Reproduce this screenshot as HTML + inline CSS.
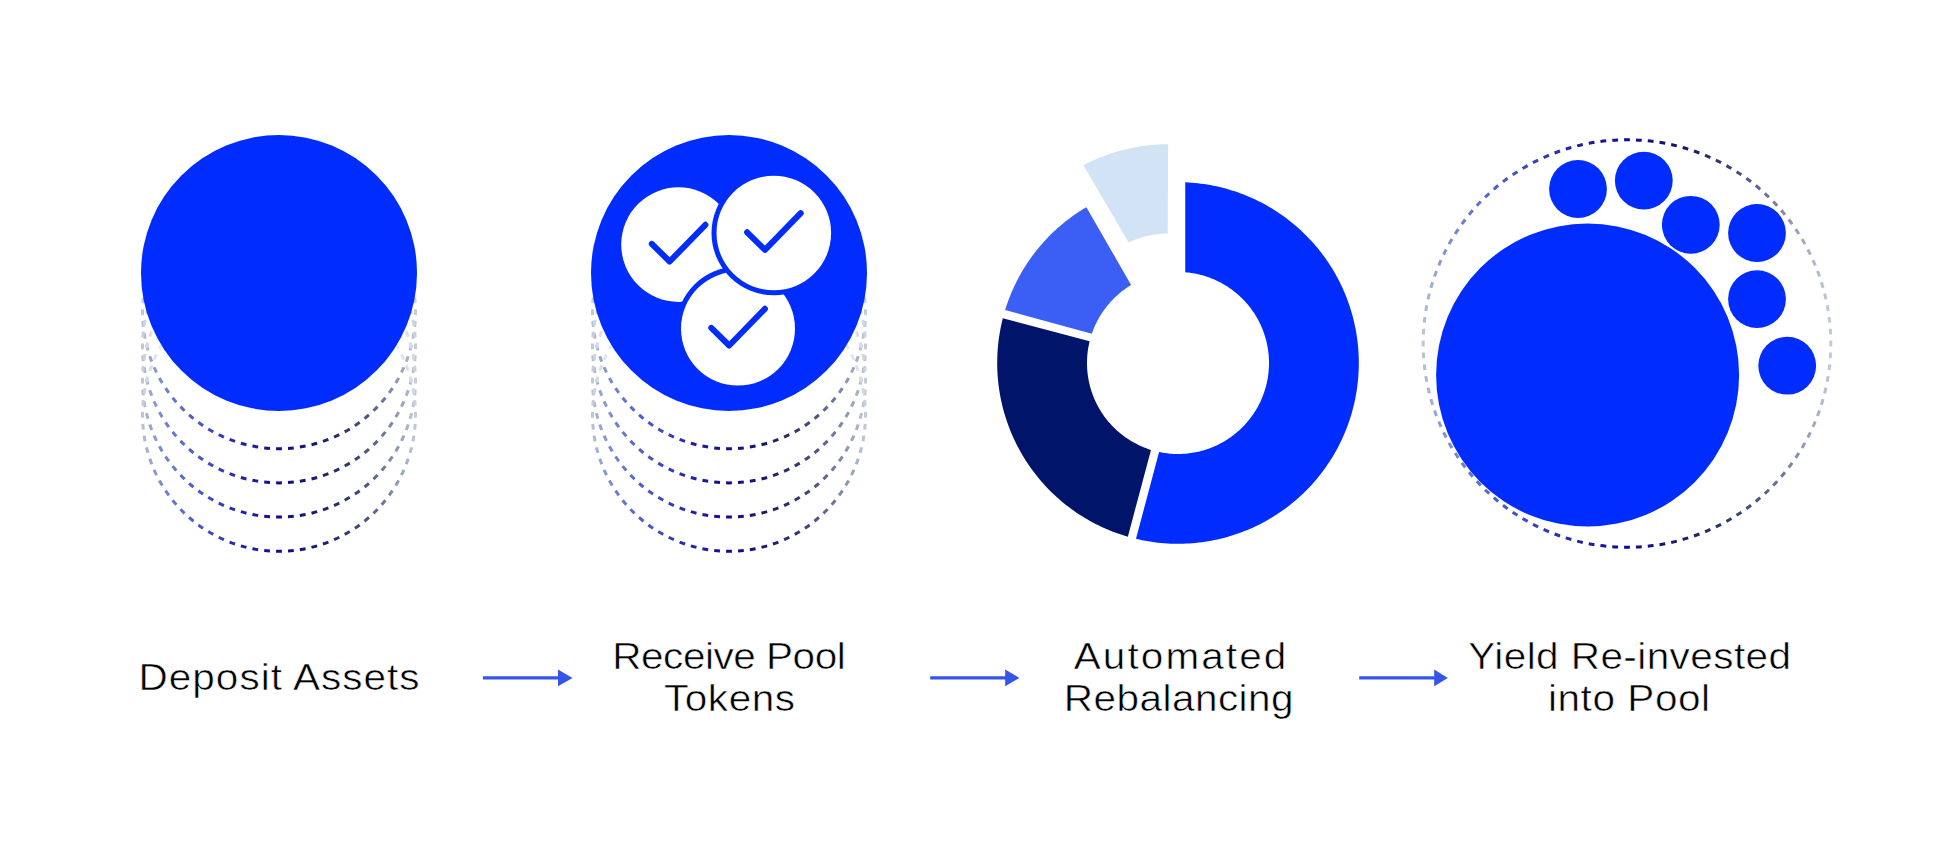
<!DOCTYPE html>
<html><head><meta charset="utf-8">
<style>
html,body{margin:0;padding:0;background:#fff;width:1950px;height:849px;overflow:hidden}
svg{position:absolute;left:0;top:0}
.t{position:absolute;font-family:"Liberation Sans",sans-serif;font-size:35px;color:#000;white-space:nowrap;line-height:42px;}
</style></head><body>
<svg width="1950" height="849" viewBox="0 0 1950 849">
<g fill="none" stroke-width="3.0"><path d="M276.10 175.73A136.5 136.5 0 0 1 281.90 175.73" stroke="#f4f6f9"/><path d="M288.01 176.00A136.5 136.5 0 0 1 293.78 176.50" stroke="#f3f6f9"/><path d="M299.84 177.30A136.5 136.5 0 0 1 305.55 178.31" stroke="#f3f5f8"/><path d="M311.52 179.63A136.5 136.5 0 0 1 317.12 181.13" stroke="#f2f4f8"/><path d="M322.95 182.97A136.5 136.5 0 0 1 328.40 184.95" stroke="#f2f4f7"/><path d="M334.05 187.29A136.5 136.5 0 0 1 339.30 189.74" stroke="#f1f4f7"/><path d="M344.72 192.56A136.5 136.5 0 0 1 349.75 195.46" stroke="#f0f3f7"/><path d="M354.90 198.75A136.5 136.5 0 0 1 359.65 202.07" stroke="#f0f2f6"/><path d="M364.50 205.79A136.5 136.5 0 0 1 368.94 209.52" stroke="#eff2f6"/><path d="M373.45 213.65A136.5 136.5 0 0 1 377.55 217.75" stroke="#eff2f5"/><path d="M381.68 222.26A136.5 136.5 0 0 1 385.41 226.70" stroke="#eef1f5"/><path d="M389.13 231.55A136.5 136.5 0 0 1 392.45 236.30" stroke="#e9edf2"/><path d="M395.74 241.45A136.5 136.5 0 0 1 398.64 246.48" stroke="#e5e9ef"/><path d="M401.46 251.90A136.5 136.5 0 0 1 403.91 257.15" stroke="#e0e5ec"/><path d="M406.25 262.80A136.5 136.5 0 0 1 408.23 268.25" stroke="#dbe0e8"/><path d="M410.07 274.08A136.5 136.5 0 0 1 411.57 279.68" stroke="#d5dce5"/><path d="M412.89 285.65A136.5 136.5 0 0 1 413.90 291.36" stroke="#d0d7e1"/><path d="M414.70 297.42A136.5 136.5 0 0 1 415.20 303.19" stroke="#cad2dc"/><path d="M415.47 309.30A136.5 136.5 0 0 1 415.47 315.10" stroke="#c4ccd8"/><path d="M415.20 321.21A136.5 136.5 0 0 1 414.70 326.98" stroke="#bfc7d5"/><path d="M413.90 333.04A136.5 136.5 0 0 1 412.89 338.75" stroke="#b9c3d1"/><path d="M411.57 344.72A136.5 136.5 0 0 1 410.07 350.32" stroke="#b4bece"/><path d="M408.23 356.15A136.5 136.5 0 0 1 406.25 361.60" stroke="#a7b2c5"/><path d="M403.91 367.25A136.5 136.5 0 0 1 401.46 372.50" stroke="#9ba6bd"/><path d="M398.64 377.92A136.5 136.5 0 0 1 395.74 382.95" stroke="#8e9ab4"/><path d="M392.45 388.10A136.5 136.5 0 0 1 389.13 392.85" stroke="#7d89a8"/><path d="M385.41 397.70A136.5 136.5 0 0 1 381.68 402.14" stroke="#6d799c"/><path d="M377.55 406.65A136.5 136.5 0 0 1 373.45 410.75" stroke="#5c6890"/><path d="M368.94 414.88A136.5 136.5 0 0 1 364.50 418.61" stroke="#4d5983"/><path d="M359.65 422.33A136.5 136.5 0 0 1 354.90 425.65" stroke="#3f4977"/><path d="M349.75 428.94A136.5 136.5 0 0 1 344.72 431.84" stroke="#303a6a"/><path d="M339.30 434.66A136.5 136.5 0 0 1 334.05 437.11" stroke="#282f67"/><path d="M328.40 439.45A136.5 136.5 0 0 1 322.95 441.43" stroke="#202565"/><path d="M317.12 443.27A136.5 136.5 0 0 1 311.52 444.77" stroke="#181a62"/><path d="M305.55 446.09A136.5 136.5 0 0 1 299.84 447.10" stroke="#161573"/><path d="M293.78 447.90A136.5 136.5 0 0 1 288.01 448.40" stroke="#140f85"/><path d="M281.90 448.67A136.5 136.5 0 0 1 276.10 448.67" stroke="#120a96"/><path d="M269.99 448.40A136.5 136.5 0 0 1 264.22 447.90" stroke="#17119a"/><path d="M258.16 447.10A136.5 136.5 0 0 1 252.45 446.09" stroke="#1d199e"/><path d="M246.48 444.77A136.5 136.5 0 0 1 240.88 443.27" stroke="#2220a2"/><path d="M235.05 441.43A136.5 136.5 0 0 1 229.60 439.45" stroke="#2c2dac"/><path d="M223.95 437.11A136.5 136.5 0 0 1 218.70 434.66" stroke="#363bb6"/><path d="M213.28 431.84A136.5 136.5 0 0 1 208.25 428.94" stroke="#4048c0"/><path d="M203.10 425.65A136.5 136.5 0 0 1 198.35 422.33" stroke="#4954c5"/><path d="M193.50 418.61A136.5 136.5 0 0 1 189.06 414.88" stroke="#5160c9"/><path d="M184.55 410.75A136.5 136.5 0 0 1 180.45 406.65" stroke="#5a6cce"/><path d="M176.32 402.14A136.5 136.5 0 0 1 172.59 397.70" stroke="#6577cd"/><path d="M168.87 392.85A136.5 136.5 0 0 1 165.55 388.10" stroke="#6f81cd"/><path d="M162.26 382.95A136.5 136.5 0 0 1 159.36 377.92" stroke="#7a8ccc"/><path d="M156.54 372.50A136.5 136.5 0 0 1 154.09 367.25" stroke="#8899ce"/><path d="M151.75 361.60A136.5 136.5 0 0 1 149.77 356.15" stroke="#96a5d0"/><path d="M147.93 350.32A136.5 136.5 0 0 1 146.43 344.72" stroke="#a4b2d2"/><path d="M145.11 338.75A136.5 136.5 0 0 1 144.10 333.04" stroke="#adb9d3"/><path d="M143.30 326.98A136.5 136.5 0 0 1 142.80 321.21" stroke="#b5c0d4"/><path d="M142.53 315.10A136.5 136.5 0 0 1 142.53 309.30" stroke="#bec7d5"/><path d="M142.80 303.19A136.5 136.5 0 0 1 143.30 297.42" stroke="#c6ceda"/><path d="M144.10 291.36A136.5 136.5 0 0 1 145.11 285.65" stroke="#cdd4df"/><path d="M146.43 279.68A136.5 136.5 0 0 1 147.93 274.08" stroke="#d3dae3"/><path d="M149.77 268.25A136.5 136.5 0 0 1 151.75 262.80" stroke="#dadfe8"/><path d="M154.09 257.15A136.5 136.5 0 0 1 156.54 251.90" stroke="#e0e5ec"/><path d="M159.36 246.48A136.5 136.5 0 0 1 162.26 241.45" stroke="#e5e9ef"/><path d="M165.55 236.30A136.5 136.5 0 0 1 168.87 231.55" stroke="#e9edf2"/><path d="M172.59 226.70A136.5 136.5 0 0 1 176.32 222.26" stroke="#eef1f5"/><path d="M180.45 217.75A136.5 136.5 0 0 1 184.55 213.65" stroke="#eff2f5"/><path d="M189.06 209.52A136.5 136.5 0 0 1 193.50 205.79" stroke="#eff2f6"/><path d="M198.35 202.07A136.5 136.5 0 0 1 203.10 198.75" stroke="#f0f2f6"/><path d="M208.25 195.46A136.5 136.5 0 0 1 213.28 192.56" stroke="#f0f3f7"/><path d="M218.70 189.74A136.5 136.5 0 0 1 223.95 187.29" stroke="#f1f4f7"/><path d="M229.60 184.95A136.5 136.5 0 0 1 235.05 182.97" stroke="#f2f4f7"/><path d="M240.88 181.13A136.5 136.5 0 0 1 246.48 179.63" stroke="#f2f4f8"/><path d="M252.45 178.31A136.5 136.5 0 0 1 258.16 177.30" stroke="#f3f5f8"/><path d="M264.22 176.50A136.5 136.5 0 0 1 269.99 176.00" stroke="#f3f6f9"/></g>
<g fill="none" stroke-width="3.0"><path d="M276.10 209.93A136.5 136.5 0 0 1 281.90 209.93" stroke="#f4f6f9"/><path d="M288.01 210.20A136.5 136.5 0 0 1 293.78 210.70" stroke="#f3f6f9"/><path d="M299.84 211.50A136.5 136.5 0 0 1 305.55 212.51" stroke="#f3f5f8"/><path d="M311.52 213.83A136.5 136.5 0 0 1 317.12 215.33" stroke="#f2f4f8"/><path d="M322.95 217.17A136.5 136.5 0 0 1 328.40 219.15" stroke="#f2f4f7"/><path d="M334.05 221.49A136.5 136.5 0 0 1 339.30 223.94" stroke="#f1f4f7"/><path d="M344.72 226.76A136.5 136.5 0 0 1 349.75 229.66" stroke="#f0f3f7"/><path d="M354.90 232.95A136.5 136.5 0 0 1 359.65 236.27" stroke="#f0f2f6"/><path d="M364.50 239.99A136.5 136.5 0 0 1 368.94 243.72" stroke="#eff2f6"/><path d="M373.45 247.85A136.5 136.5 0 0 1 377.55 251.95" stroke="#eff2f5"/><path d="M381.68 256.46A136.5 136.5 0 0 1 385.41 260.90" stroke="#eef1f5"/><path d="M389.13 265.75A136.5 136.5 0 0 1 392.45 270.50" stroke="#e9edf2"/><path d="M395.74 275.65A136.5 136.5 0 0 1 398.64 280.68" stroke="#e5e9ef"/><path d="M401.46 286.10A136.5 136.5 0 0 1 403.91 291.35" stroke="#e0e5ec"/><path d="M406.25 297.00A136.5 136.5 0 0 1 408.23 302.45" stroke="#dbe0e8"/><path d="M410.07 308.28A136.5 136.5 0 0 1 411.57 313.88" stroke="#d5dce5"/><path d="M412.89 319.85A136.5 136.5 0 0 1 413.90 325.56" stroke="#d0d7e1"/><path d="M414.70 331.62A136.5 136.5 0 0 1 415.20 337.39" stroke="#cad2dc"/><path d="M415.47 343.50A136.5 136.5 0 0 1 415.47 349.30" stroke="#c4ccd8"/><path d="M415.20 355.41A136.5 136.5 0 0 1 414.70 361.18" stroke="#bfc7d5"/><path d="M413.90 367.24A136.5 136.5 0 0 1 412.89 372.95" stroke="#b9c3d1"/><path d="M411.57 378.92A136.5 136.5 0 0 1 410.07 384.52" stroke="#b4bece"/><path d="M408.23 390.35A136.5 136.5 0 0 1 406.25 395.80" stroke="#a7b2c5"/><path d="M403.91 401.45A136.5 136.5 0 0 1 401.46 406.70" stroke="#9ba6bd"/><path d="M398.64 412.12A136.5 136.5 0 0 1 395.74 417.15" stroke="#8e9ab4"/><path d="M392.45 422.30A136.5 136.5 0 0 1 389.13 427.05" stroke="#7d89a8"/><path d="M385.41 431.90A136.5 136.5 0 0 1 381.68 436.34" stroke="#6d799c"/><path d="M377.55 440.85A136.5 136.5 0 0 1 373.45 444.95" stroke="#5c6890"/><path d="M368.94 449.08A136.5 136.5 0 0 1 364.50 452.81" stroke="#4d5983"/><path d="M359.65 456.53A136.5 136.5 0 0 1 354.90 459.85" stroke="#3f4977"/><path d="M349.75 463.14A136.5 136.5 0 0 1 344.72 466.04" stroke="#303a6a"/><path d="M339.30 468.86A136.5 136.5 0 0 1 334.05 471.31" stroke="#282f67"/><path d="M328.40 473.65A136.5 136.5 0 0 1 322.95 475.63" stroke="#202565"/><path d="M317.12 477.47A136.5 136.5 0 0 1 311.52 478.97" stroke="#181a62"/><path d="M305.55 480.29A136.5 136.5 0 0 1 299.84 481.30" stroke="#161573"/><path d="M293.78 482.10A136.5 136.5 0 0 1 288.01 482.60" stroke="#140f85"/><path d="M281.90 482.87A136.5 136.5 0 0 1 276.10 482.87" stroke="#120a96"/><path d="M269.99 482.60A136.5 136.5 0 0 1 264.22 482.10" stroke="#17119a"/><path d="M258.16 481.30A136.5 136.5 0 0 1 252.45 480.29" stroke="#1d199e"/><path d="M246.48 478.97A136.5 136.5 0 0 1 240.88 477.47" stroke="#2220a2"/><path d="M235.05 475.63A136.5 136.5 0 0 1 229.60 473.65" stroke="#2c2dac"/><path d="M223.95 471.31A136.5 136.5 0 0 1 218.70 468.86" stroke="#363bb6"/><path d="M213.28 466.04A136.5 136.5 0 0 1 208.25 463.14" stroke="#4048c0"/><path d="M203.10 459.85A136.5 136.5 0 0 1 198.35 456.53" stroke="#4954c5"/><path d="M193.50 452.81A136.5 136.5 0 0 1 189.06 449.08" stroke="#5160c9"/><path d="M184.55 444.95A136.5 136.5 0 0 1 180.45 440.85" stroke="#5a6cce"/><path d="M176.32 436.34A136.5 136.5 0 0 1 172.59 431.90" stroke="#6577cd"/><path d="M168.87 427.05A136.5 136.5 0 0 1 165.55 422.30" stroke="#6f81cd"/><path d="M162.26 417.15A136.5 136.5 0 0 1 159.36 412.12" stroke="#7a8ccc"/><path d="M156.54 406.70A136.5 136.5 0 0 1 154.09 401.45" stroke="#8899ce"/><path d="M151.75 395.80A136.5 136.5 0 0 1 149.77 390.35" stroke="#96a5d0"/><path d="M147.93 384.52A136.5 136.5 0 0 1 146.43 378.92" stroke="#a4b2d2"/><path d="M145.11 372.95A136.5 136.5 0 0 1 144.10 367.24" stroke="#adb9d3"/><path d="M143.30 361.18A136.5 136.5 0 0 1 142.80 355.41" stroke="#b5c0d4"/><path d="M142.53 349.30A136.5 136.5 0 0 1 142.53 343.50" stroke="#bec7d5"/><path d="M142.80 337.39A136.5 136.5 0 0 1 143.30 331.62" stroke="#c6ceda"/><path d="M144.10 325.56A136.5 136.5 0 0 1 145.11 319.85" stroke="#cdd4df"/><path d="M146.43 313.88A136.5 136.5 0 0 1 147.93 308.28" stroke="#d3dae3"/><path d="M149.77 302.45A136.5 136.5 0 0 1 151.75 297.00" stroke="#dadfe8"/><path d="M154.09 291.35A136.5 136.5 0 0 1 156.54 286.10" stroke="#e0e5ec"/><path d="M159.36 280.68A136.5 136.5 0 0 1 162.26 275.65" stroke="#e5e9ef"/><path d="M165.55 270.50A136.5 136.5 0 0 1 168.87 265.75" stroke="#e9edf2"/><path d="M172.59 260.90A136.5 136.5 0 0 1 176.32 256.46" stroke="#eef1f5"/><path d="M180.45 251.95A136.5 136.5 0 0 1 184.55 247.85" stroke="#eff2f5"/><path d="M189.06 243.72A136.5 136.5 0 0 1 193.50 239.99" stroke="#eff2f6"/><path d="M198.35 236.27A136.5 136.5 0 0 1 203.10 232.95" stroke="#f0f2f6"/><path d="M208.25 229.66A136.5 136.5 0 0 1 213.28 226.76" stroke="#f0f3f7"/><path d="M218.70 223.94A136.5 136.5 0 0 1 223.95 221.49" stroke="#f1f4f7"/><path d="M229.60 219.15A136.5 136.5 0 0 1 235.05 217.17" stroke="#f2f4f7"/><path d="M240.88 215.33A136.5 136.5 0 0 1 246.48 213.83" stroke="#f2f4f8"/><path d="M252.45 212.51A136.5 136.5 0 0 1 258.16 211.50" stroke="#f3f5f8"/><path d="M264.22 210.70A136.5 136.5 0 0 1 269.99 210.20" stroke="#f3f6f9"/></g>
<g fill="none" stroke-width="3.0"><path d="M276.10 244.13A136.5 136.5 0 0 1 281.90 244.13" stroke="#f4f6f9"/><path d="M288.01 244.40A136.5 136.5 0 0 1 293.78 244.90" stroke="#f3f6f9"/><path d="M299.84 245.70A136.5 136.5 0 0 1 305.55 246.71" stroke="#f3f5f8"/><path d="M311.52 248.03A136.5 136.5 0 0 1 317.12 249.53" stroke="#f2f4f8"/><path d="M322.95 251.37A136.5 136.5 0 0 1 328.40 253.35" stroke="#f2f4f7"/><path d="M334.05 255.69A136.5 136.5 0 0 1 339.30 258.14" stroke="#f1f4f7"/><path d="M344.72 260.96A136.5 136.5 0 0 1 349.75 263.86" stroke="#f0f3f7"/><path d="M354.90 267.15A136.5 136.5 0 0 1 359.65 270.47" stroke="#f0f2f6"/><path d="M364.50 274.19A136.5 136.5 0 0 1 368.94 277.92" stroke="#eff2f6"/><path d="M373.45 282.05A136.5 136.5 0 0 1 377.55 286.15" stroke="#eff2f5"/><path d="M381.68 290.66A136.5 136.5 0 0 1 385.41 295.10" stroke="#eef1f5"/><path d="M389.13 299.95A136.5 136.5 0 0 1 392.45 304.70" stroke="#e9edf2"/><path d="M395.74 309.85A136.5 136.5 0 0 1 398.64 314.88" stroke="#e5e9ef"/><path d="M401.46 320.30A136.5 136.5 0 0 1 403.91 325.55" stroke="#e0e5ec"/><path d="M406.25 331.20A136.5 136.5 0 0 1 408.23 336.65" stroke="#dbe0e8"/><path d="M410.07 342.48A136.5 136.5 0 0 1 411.57 348.08" stroke="#d5dce5"/><path d="M412.89 354.05A136.5 136.5 0 0 1 413.90 359.76" stroke="#d0d7e1"/><path d="M414.70 365.82A136.5 136.5 0 0 1 415.20 371.59" stroke="#cad2dc"/><path d="M415.47 377.70A136.5 136.5 0 0 1 415.47 383.50" stroke="#c4ccd8"/><path d="M415.20 389.61A136.5 136.5 0 0 1 414.70 395.38" stroke="#bfc7d5"/><path d="M413.90 401.44A136.5 136.5 0 0 1 412.89 407.15" stroke="#b9c3d1"/><path d="M411.57 413.12A136.5 136.5 0 0 1 410.07 418.72" stroke="#b4bece"/><path d="M408.23 424.55A136.5 136.5 0 0 1 406.25 430.00" stroke="#a7b2c5"/><path d="M403.91 435.65A136.5 136.5 0 0 1 401.46 440.90" stroke="#9ba6bd"/><path d="M398.64 446.32A136.5 136.5 0 0 1 395.74 451.35" stroke="#8e9ab4"/><path d="M392.45 456.50A136.5 136.5 0 0 1 389.13 461.25" stroke="#7d89a8"/><path d="M385.41 466.10A136.5 136.5 0 0 1 381.68 470.54" stroke="#6d799c"/><path d="M377.55 475.05A136.5 136.5 0 0 1 373.45 479.15" stroke="#5c6890"/><path d="M368.94 483.28A136.5 136.5 0 0 1 364.50 487.01" stroke="#4d5983"/><path d="M359.65 490.73A136.5 136.5 0 0 1 354.90 494.05" stroke="#3f4977"/><path d="M349.75 497.34A136.5 136.5 0 0 1 344.72 500.24" stroke="#303a6a"/><path d="M339.30 503.06A136.5 136.5 0 0 1 334.05 505.51" stroke="#282f67"/><path d="M328.40 507.85A136.5 136.5 0 0 1 322.95 509.83" stroke="#202565"/><path d="M317.12 511.67A136.5 136.5 0 0 1 311.52 513.17" stroke="#181a62"/><path d="M305.55 514.49A136.5 136.5 0 0 1 299.84 515.50" stroke="#161573"/><path d="M293.78 516.30A136.5 136.5 0 0 1 288.01 516.80" stroke="#140f85"/><path d="M281.90 517.07A136.5 136.5 0 0 1 276.10 517.07" stroke="#120a96"/><path d="M269.99 516.80A136.5 136.5 0 0 1 264.22 516.30" stroke="#17119a"/><path d="M258.16 515.50A136.5 136.5 0 0 1 252.45 514.49" stroke="#1d199e"/><path d="M246.48 513.17A136.5 136.5 0 0 1 240.88 511.67" stroke="#2220a2"/><path d="M235.05 509.83A136.5 136.5 0 0 1 229.60 507.85" stroke="#2c2dac"/><path d="M223.95 505.51A136.5 136.5 0 0 1 218.70 503.06" stroke="#363bb6"/><path d="M213.28 500.24A136.5 136.5 0 0 1 208.25 497.34" stroke="#4048c0"/><path d="M203.10 494.05A136.5 136.5 0 0 1 198.35 490.73" stroke="#4954c5"/><path d="M193.50 487.01A136.5 136.5 0 0 1 189.06 483.28" stroke="#5160c9"/><path d="M184.55 479.15A136.5 136.5 0 0 1 180.45 475.05" stroke="#5a6cce"/><path d="M176.32 470.54A136.5 136.5 0 0 1 172.59 466.10" stroke="#6577cd"/><path d="M168.87 461.25A136.5 136.5 0 0 1 165.55 456.50" stroke="#6f81cd"/><path d="M162.26 451.35A136.5 136.5 0 0 1 159.36 446.32" stroke="#7a8ccc"/><path d="M156.54 440.90A136.5 136.5 0 0 1 154.09 435.65" stroke="#8899ce"/><path d="M151.75 430.00A136.5 136.5 0 0 1 149.77 424.55" stroke="#96a5d0"/><path d="M147.93 418.72A136.5 136.5 0 0 1 146.43 413.12" stroke="#a4b2d2"/><path d="M145.11 407.15A136.5 136.5 0 0 1 144.10 401.44" stroke="#adb9d3"/><path d="M143.30 395.38A136.5 136.5 0 0 1 142.80 389.61" stroke="#b5c0d4"/><path d="M142.53 383.50A136.5 136.5 0 0 1 142.53 377.70" stroke="#bec7d5"/><path d="M142.80 371.59A136.5 136.5 0 0 1 143.30 365.82" stroke="#c6ceda"/><path d="M144.10 359.76A136.5 136.5 0 0 1 145.11 354.05" stroke="#cdd4df"/><path d="M146.43 348.08A136.5 136.5 0 0 1 147.93 342.48" stroke="#d3dae3"/><path d="M149.77 336.65A136.5 136.5 0 0 1 151.75 331.20" stroke="#dadfe8"/><path d="M154.09 325.55A136.5 136.5 0 0 1 156.54 320.30" stroke="#e0e5ec"/><path d="M159.36 314.88A136.5 136.5 0 0 1 162.26 309.85" stroke="#e5e9ef"/><path d="M165.55 304.70A136.5 136.5 0 0 1 168.87 299.95" stroke="#e9edf2"/><path d="M172.59 295.10A136.5 136.5 0 0 1 176.32 290.66" stroke="#eef1f5"/><path d="M180.45 286.15A136.5 136.5 0 0 1 184.55 282.05" stroke="#eff2f5"/><path d="M189.06 277.92A136.5 136.5 0 0 1 193.50 274.19" stroke="#eff2f6"/><path d="M198.35 270.47A136.5 136.5 0 0 1 203.10 267.15" stroke="#f0f2f6"/><path d="M208.25 263.86A136.5 136.5 0 0 1 213.28 260.96" stroke="#f0f3f7"/><path d="M218.70 258.14A136.5 136.5 0 0 1 223.95 255.69" stroke="#f1f4f7"/><path d="M229.60 253.35A136.5 136.5 0 0 1 235.05 251.37" stroke="#f2f4f7"/><path d="M240.88 249.53A136.5 136.5 0 0 1 246.48 248.03" stroke="#f2f4f8"/><path d="M252.45 246.71A136.5 136.5 0 0 1 258.16 245.70" stroke="#f3f5f8"/><path d="M264.22 244.90A136.5 136.5 0 0 1 269.99 244.40" stroke="#f3f6f9"/></g>
<g fill="none" stroke-width="3.0"><path d="M276.10 278.33A136.5 136.5 0 0 1 281.90 278.33" stroke="#f4f6f9"/><path d="M288.01 278.60A136.5 136.5 0 0 1 293.78 279.10" stroke="#f3f6f9"/><path d="M299.84 279.90A136.5 136.5 0 0 1 305.55 280.91" stroke="#f3f5f8"/><path d="M311.52 282.23A136.5 136.5 0 0 1 317.12 283.73" stroke="#f2f4f8"/><path d="M322.95 285.57A136.5 136.5 0 0 1 328.40 287.55" stroke="#f2f4f7"/><path d="M334.05 289.89A136.5 136.5 0 0 1 339.30 292.34" stroke="#f1f4f7"/><path d="M344.72 295.16A136.5 136.5 0 0 1 349.75 298.06" stroke="#f0f3f7"/><path d="M354.90 301.35A136.5 136.5 0 0 1 359.65 304.67" stroke="#f0f2f6"/><path d="M364.50 308.39A136.5 136.5 0 0 1 368.94 312.12" stroke="#eff2f6"/><path d="M373.45 316.25A136.5 136.5 0 0 1 377.55 320.35" stroke="#eff2f5"/><path d="M381.68 324.86A136.5 136.5 0 0 1 385.41 329.30" stroke="#eef1f5"/><path d="M389.13 334.15A136.5 136.5 0 0 1 392.45 338.90" stroke="#e9edf2"/><path d="M395.74 344.05A136.5 136.5 0 0 1 398.64 349.08" stroke="#e5e9ef"/><path d="M401.46 354.50A136.5 136.5 0 0 1 403.91 359.75" stroke="#e0e5ec"/><path d="M406.25 365.40A136.5 136.5 0 0 1 408.23 370.85" stroke="#dbe0e8"/><path d="M410.07 376.68A136.5 136.5 0 0 1 411.57 382.28" stroke="#d5dce5"/><path d="M412.89 388.25A136.5 136.5 0 0 1 413.90 393.96" stroke="#d0d7e1"/><path d="M414.70 400.02A136.5 136.5 0 0 1 415.20 405.79" stroke="#cad2dc"/><path d="M415.47 411.90A136.5 136.5 0 0 1 415.47 417.70" stroke="#c4ccd8"/><path d="M415.20 423.81A136.5 136.5 0 0 1 414.70 429.58" stroke="#bfc7d5"/><path d="M413.90 435.64A136.5 136.5 0 0 1 412.89 441.35" stroke="#b9c3d1"/><path d="M411.57 447.32A136.5 136.5 0 0 1 410.07 452.92" stroke="#b4bece"/><path d="M408.23 458.75A136.5 136.5 0 0 1 406.25 464.20" stroke="#a7b2c5"/><path d="M403.91 469.85A136.5 136.5 0 0 1 401.46 475.10" stroke="#9ba6bd"/><path d="M398.64 480.52A136.5 136.5 0 0 1 395.74 485.55" stroke="#8e9ab4"/><path d="M392.45 490.70A136.5 136.5 0 0 1 389.13 495.45" stroke="#7d89a8"/><path d="M385.41 500.30A136.5 136.5 0 0 1 381.68 504.74" stroke="#6d799c"/><path d="M377.55 509.25A136.5 136.5 0 0 1 373.45 513.35" stroke="#5c6890"/><path d="M368.94 517.48A136.5 136.5 0 0 1 364.50 521.21" stroke="#4d5983"/><path d="M359.65 524.93A136.5 136.5 0 0 1 354.90 528.25" stroke="#3f4977"/><path d="M349.75 531.54A136.5 136.5 0 0 1 344.72 534.44" stroke="#303a6a"/><path d="M339.30 537.26A136.5 136.5 0 0 1 334.05 539.71" stroke="#282f67"/><path d="M328.40 542.05A136.5 136.5 0 0 1 322.95 544.03" stroke="#202565"/><path d="M317.12 545.87A136.5 136.5 0 0 1 311.52 547.37" stroke="#181a62"/><path d="M305.55 548.69A136.5 136.5 0 0 1 299.84 549.70" stroke="#161573"/><path d="M293.78 550.50A136.5 136.5 0 0 1 288.01 551.00" stroke="#140f85"/><path d="M281.90 551.27A136.5 136.5 0 0 1 276.10 551.27" stroke="#120a96"/><path d="M269.99 551.00A136.5 136.5 0 0 1 264.22 550.50" stroke="#17119a"/><path d="M258.16 549.70A136.5 136.5 0 0 1 252.45 548.69" stroke="#1d199e"/><path d="M246.48 547.37A136.5 136.5 0 0 1 240.88 545.87" stroke="#2220a2"/><path d="M235.05 544.03A136.5 136.5 0 0 1 229.60 542.05" stroke="#2c2dac"/><path d="M223.95 539.71A136.5 136.5 0 0 1 218.70 537.26" stroke="#363bb6"/><path d="M213.28 534.44A136.5 136.5 0 0 1 208.25 531.54" stroke="#4048c0"/><path d="M203.10 528.25A136.5 136.5 0 0 1 198.35 524.93" stroke="#4954c5"/><path d="M193.50 521.21A136.5 136.5 0 0 1 189.06 517.48" stroke="#5160c9"/><path d="M184.55 513.35A136.5 136.5 0 0 1 180.45 509.25" stroke="#5a6cce"/><path d="M176.32 504.74A136.5 136.5 0 0 1 172.59 500.30" stroke="#6577cd"/><path d="M168.87 495.45A136.5 136.5 0 0 1 165.55 490.70" stroke="#6f81cd"/><path d="M162.26 485.55A136.5 136.5 0 0 1 159.36 480.52" stroke="#7a8ccc"/><path d="M156.54 475.10A136.5 136.5 0 0 1 154.09 469.85" stroke="#8899ce"/><path d="M151.75 464.20A136.5 136.5 0 0 1 149.77 458.75" stroke="#96a5d0"/><path d="M147.93 452.92A136.5 136.5 0 0 1 146.43 447.32" stroke="#a4b2d2"/><path d="M145.11 441.35A136.5 136.5 0 0 1 144.10 435.64" stroke="#adb9d3"/><path d="M143.30 429.58A136.5 136.5 0 0 1 142.80 423.81" stroke="#b5c0d4"/><path d="M142.53 417.70A136.5 136.5 0 0 1 142.53 411.90" stroke="#bec7d5"/><path d="M142.80 405.79A136.5 136.5 0 0 1 143.30 400.02" stroke="#c6ceda"/><path d="M144.10 393.96A136.5 136.5 0 0 1 145.11 388.25" stroke="#cdd4df"/><path d="M146.43 382.28A136.5 136.5 0 0 1 147.93 376.68" stroke="#d3dae3"/><path d="M149.77 370.85A136.5 136.5 0 0 1 151.75 365.40" stroke="#dadfe8"/><path d="M154.09 359.75A136.5 136.5 0 0 1 156.54 354.50" stroke="#e0e5ec"/><path d="M159.36 349.08A136.5 136.5 0 0 1 162.26 344.05" stroke="#e5e9ef"/><path d="M165.55 338.90A136.5 136.5 0 0 1 168.87 334.15" stroke="#e9edf2"/><path d="M172.59 329.30A136.5 136.5 0 0 1 176.32 324.86" stroke="#eef1f5"/><path d="M180.45 320.35A136.5 136.5 0 0 1 184.55 316.25" stroke="#eff2f5"/><path d="M189.06 312.12A136.5 136.5 0 0 1 193.50 308.39" stroke="#eff2f6"/><path d="M198.35 304.67A136.5 136.5 0 0 1 203.10 301.35" stroke="#f0f2f6"/><path d="M208.25 298.06A136.5 136.5 0 0 1 213.28 295.16" stroke="#f0f3f7"/><path d="M218.70 292.34A136.5 136.5 0 0 1 223.95 289.89" stroke="#f1f4f7"/><path d="M229.60 287.55A136.5 136.5 0 0 1 235.05 285.57" stroke="#f2f4f7"/><path d="M240.88 283.73A136.5 136.5 0 0 1 246.48 282.23" stroke="#f2f4f8"/><path d="M252.45 280.91A136.5 136.5 0 0 1 258.16 279.90" stroke="#f3f5f8"/><path d="M264.22 279.10A136.5 136.5 0 0 1 269.99 278.60" stroke="#f3f6f9"/></g>
<circle cx="279" cy="273" r="138" fill="#002cfe"/>
<g fill="none" stroke-width="3.0"><path d="M726.10 175.73A136.5 136.5 0 0 1 731.90 175.73" stroke="#f4f6f9"/><path d="M738.01 176.00A136.5 136.5 0 0 1 743.78 176.50" stroke="#f3f6f9"/><path d="M749.84 177.30A136.5 136.5 0 0 1 755.55 178.31" stroke="#f3f5f8"/><path d="M761.52 179.63A136.5 136.5 0 0 1 767.12 181.13" stroke="#f2f4f8"/><path d="M772.95 182.97A136.5 136.5 0 0 1 778.40 184.95" stroke="#f2f4f7"/><path d="M784.05 187.29A136.5 136.5 0 0 1 789.30 189.74" stroke="#f1f4f7"/><path d="M794.72 192.56A136.5 136.5 0 0 1 799.75 195.46" stroke="#f0f3f7"/><path d="M804.90 198.75A136.5 136.5 0 0 1 809.65 202.07" stroke="#f0f2f6"/><path d="M814.50 205.79A136.5 136.5 0 0 1 818.94 209.52" stroke="#eff2f6"/><path d="M823.45 213.65A136.5 136.5 0 0 1 827.55 217.75" stroke="#eff2f5"/><path d="M831.68 222.26A136.5 136.5 0 0 1 835.41 226.70" stroke="#eef1f5"/><path d="M839.13 231.55A136.5 136.5 0 0 1 842.45 236.30" stroke="#e9edf2"/><path d="M845.74 241.45A136.5 136.5 0 0 1 848.64 246.48" stroke="#e5e9ef"/><path d="M851.46 251.90A136.5 136.5 0 0 1 853.91 257.15" stroke="#e0e5ec"/><path d="M856.25 262.80A136.5 136.5 0 0 1 858.23 268.25" stroke="#dbe0e8"/><path d="M860.07 274.08A136.5 136.5 0 0 1 861.57 279.68" stroke="#d5dce5"/><path d="M862.89 285.65A136.5 136.5 0 0 1 863.90 291.36" stroke="#d0d7e1"/><path d="M864.70 297.42A136.5 136.5 0 0 1 865.20 303.19" stroke="#cad2dc"/><path d="M865.47 309.30A136.5 136.5 0 0 1 865.47 315.10" stroke="#c4ccd8"/><path d="M865.20 321.21A136.5 136.5 0 0 1 864.70 326.98" stroke="#bfc7d5"/><path d="M863.90 333.04A136.5 136.5 0 0 1 862.89 338.75" stroke="#b9c3d1"/><path d="M861.57 344.72A136.5 136.5 0 0 1 860.07 350.32" stroke="#b4bece"/><path d="M858.23 356.15A136.5 136.5 0 0 1 856.25 361.60" stroke="#a7b2c5"/><path d="M853.91 367.25A136.5 136.5 0 0 1 851.46 372.50" stroke="#9ba6bd"/><path d="M848.64 377.92A136.5 136.5 0 0 1 845.74 382.95" stroke="#8e9ab4"/><path d="M842.45 388.10A136.5 136.5 0 0 1 839.13 392.85" stroke="#7d89a8"/><path d="M835.41 397.70A136.5 136.5 0 0 1 831.68 402.14" stroke="#6d799c"/><path d="M827.55 406.65A136.5 136.5 0 0 1 823.45 410.75" stroke="#5c6890"/><path d="M818.94 414.88A136.5 136.5 0 0 1 814.50 418.61" stroke="#4d5983"/><path d="M809.65 422.33A136.5 136.5 0 0 1 804.90 425.65" stroke="#3f4977"/><path d="M799.75 428.94A136.5 136.5 0 0 1 794.72 431.84" stroke="#303a6a"/><path d="M789.30 434.66A136.5 136.5 0 0 1 784.05 437.11" stroke="#282f67"/><path d="M778.40 439.45A136.5 136.5 0 0 1 772.95 441.43" stroke="#202565"/><path d="M767.12 443.27A136.5 136.5 0 0 1 761.52 444.77" stroke="#181a62"/><path d="M755.55 446.09A136.5 136.5 0 0 1 749.84 447.10" stroke="#161573"/><path d="M743.78 447.90A136.5 136.5 0 0 1 738.01 448.40" stroke="#140f85"/><path d="M731.90 448.67A136.5 136.5 0 0 1 726.10 448.67" stroke="#120a96"/><path d="M719.99 448.40A136.5 136.5 0 0 1 714.22 447.90" stroke="#17119a"/><path d="M708.16 447.10A136.5 136.5 0 0 1 702.45 446.09" stroke="#1d199e"/><path d="M696.48 444.77A136.5 136.5 0 0 1 690.88 443.27" stroke="#2220a2"/><path d="M685.05 441.43A136.5 136.5 0 0 1 679.60 439.45" stroke="#2c2dac"/><path d="M673.95 437.11A136.5 136.5 0 0 1 668.70 434.66" stroke="#363bb6"/><path d="M663.28 431.84A136.5 136.5 0 0 1 658.25 428.94" stroke="#4048c0"/><path d="M653.10 425.65A136.5 136.5 0 0 1 648.35 422.33" stroke="#4954c5"/><path d="M643.50 418.61A136.5 136.5 0 0 1 639.06 414.88" stroke="#5160c9"/><path d="M634.55 410.75A136.5 136.5 0 0 1 630.45 406.65" stroke="#5a6cce"/><path d="M626.32 402.14A136.5 136.5 0 0 1 622.59 397.70" stroke="#6577cd"/><path d="M618.87 392.85A136.5 136.5 0 0 1 615.55 388.10" stroke="#6f81cd"/><path d="M612.26 382.95A136.5 136.5 0 0 1 609.36 377.92" stroke="#7a8ccc"/><path d="M606.54 372.50A136.5 136.5 0 0 1 604.09 367.25" stroke="#8899ce"/><path d="M601.75 361.60A136.5 136.5 0 0 1 599.77 356.15" stroke="#96a5d0"/><path d="M597.93 350.32A136.5 136.5 0 0 1 596.43 344.72" stroke="#a4b2d2"/><path d="M595.11 338.75A136.5 136.5 0 0 1 594.10 333.04" stroke="#adb9d3"/><path d="M593.30 326.98A136.5 136.5 0 0 1 592.80 321.21" stroke="#b5c0d4"/><path d="M592.53 315.10A136.5 136.5 0 0 1 592.53 309.30" stroke="#bec7d5"/><path d="M592.80 303.19A136.5 136.5 0 0 1 593.30 297.42" stroke="#c6ceda"/><path d="M594.10 291.36A136.5 136.5 0 0 1 595.11 285.65" stroke="#cdd4df"/><path d="M596.43 279.68A136.5 136.5 0 0 1 597.93 274.08" stroke="#d3dae3"/><path d="M599.77 268.25A136.5 136.5 0 0 1 601.75 262.80" stroke="#dadfe8"/><path d="M604.09 257.15A136.5 136.5 0 0 1 606.54 251.90" stroke="#e0e5ec"/><path d="M609.36 246.48A136.5 136.5 0 0 1 612.26 241.45" stroke="#e5e9ef"/><path d="M615.55 236.30A136.5 136.5 0 0 1 618.87 231.55" stroke="#e9edf2"/><path d="M622.59 226.70A136.5 136.5 0 0 1 626.32 222.26" stroke="#eef1f5"/><path d="M630.45 217.75A136.5 136.5 0 0 1 634.55 213.65" stroke="#eff2f5"/><path d="M639.06 209.52A136.5 136.5 0 0 1 643.50 205.79" stroke="#eff2f6"/><path d="M648.35 202.07A136.5 136.5 0 0 1 653.10 198.75" stroke="#f0f2f6"/><path d="M658.25 195.46A136.5 136.5 0 0 1 663.28 192.56" stroke="#f0f3f7"/><path d="M668.70 189.74A136.5 136.5 0 0 1 673.95 187.29" stroke="#f1f4f7"/><path d="M679.60 184.95A136.5 136.5 0 0 1 685.05 182.97" stroke="#f2f4f7"/><path d="M690.88 181.13A136.5 136.5 0 0 1 696.48 179.63" stroke="#f2f4f8"/><path d="M702.45 178.31A136.5 136.5 0 0 1 708.16 177.30" stroke="#f3f5f8"/><path d="M714.22 176.50A136.5 136.5 0 0 1 719.99 176.00" stroke="#f3f6f9"/></g>
<g fill="none" stroke-width="3.0"><path d="M726.10 209.93A136.5 136.5 0 0 1 731.90 209.93" stroke="#f4f6f9"/><path d="M738.01 210.20A136.5 136.5 0 0 1 743.78 210.70" stroke="#f3f6f9"/><path d="M749.84 211.50A136.5 136.5 0 0 1 755.55 212.51" stroke="#f3f5f8"/><path d="M761.52 213.83A136.5 136.5 0 0 1 767.12 215.33" stroke="#f2f4f8"/><path d="M772.95 217.17A136.5 136.5 0 0 1 778.40 219.15" stroke="#f2f4f7"/><path d="M784.05 221.49A136.5 136.5 0 0 1 789.30 223.94" stroke="#f1f4f7"/><path d="M794.72 226.76A136.5 136.5 0 0 1 799.75 229.66" stroke="#f0f3f7"/><path d="M804.90 232.95A136.5 136.5 0 0 1 809.65 236.27" stroke="#f0f2f6"/><path d="M814.50 239.99A136.5 136.5 0 0 1 818.94 243.72" stroke="#eff2f6"/><path d="M823.45 247.85A136.5 136.5 0 0 1 827.55 251.95" stroke="#eff2f5"/><path d="M831.68 256.46A136.5 136.5 0 0 1 835.41 260.90" stroke="#eef1f5"/><path d="M839.13 265.75A136.5 136.5 0 0 1 842.45 270.50" stroke="#e9edf2"/><path d="M845.74 275.65A136.5 136.5 0 0 1 848.64 280.68" stroke="#e5e9ef"/><path d="M851.46 286.10A136.5 136.5 0 0 1 853.91 291.35" stroke="#e0e5ec"/><path d="M856.25 297.00A136.5 136.5 0 0 1 858.23 302.45" stroke="#dbe0e8"/><path d="M860.07 308.28A136.5 136.5 0 0 1 861.57 313.88" stroke="#d5dce5"/><path d="M862.89 319.85A136.5 136.5 0 0 1 863.90 325.56" stroke="#d0d7e1"/><path d="M864.70 331.62A136.5 136.5 0 0 1 865.20 337.39" stroke="#cad2dc"/><path d="M865.47 343.50A136.5 136.5 0 0 1 865.47 349.30" stroke="#c4ccd8"/><path d="M865.20 355.41A136.5 136.5 0 0 1 864.70 361.18" stroke="#bfc7d5"/><path d="M863.90 367.24A136.5 136.5 0 0 1 862.89 372.95" stroke="#b9c3d1"/><path d="M861.57 378.92A136.5 136.5 0 0 1 860.07 384.52" stroke="#b4bece"/><path d="M858.23 390.35A136.5 136.5 0 0 1 856.25 395.80" stroke="#a7b2c5"/><path d="M853.91 401.45A136.5 136.5 0 0 1 851.46 406.70" stroke="#9ba6bd"/><path d="M848.64 412.12A136.5 136.5 0 0 1 845.74 417.15" stroke="#8e9ab4"/><path d="M842.45 422.30A136.5 136.5 0 0 1 839.13 427.05" stroke="#7d89a8"/><path d="M835.41 431.90A136.5 136.5 0 0 1 831.68 436.34" stroke="#6d799c"/><path d="M827.55 440.85A136.5 136.5 0 0 1 823.45 444.95" stroke="#5c6890"/><path d="M818.94 449.08A136.5 136.5 0 0 1 814.50 452.81" stroke="#4d5983"/><path d="M809.65 456.53A136.5 136.5 0 0 1 804.90 459.85" stroke="#3f4977"/><path d="M799.75 463.14A136.5 136.5 0 0 1 794.72 466.04" stroke="#303a6a"/><path d="M789.30 468.86A136.5 136.5 0 0 1 784.05 471.31" stroke="#282f67"/><path d="M778.40 473.65A136.5 136.5 0 0 1 772.95 475.63" stroke="#202565"/><path d="M767.12 477.47A136.5 136.5 0 0 1 761.52 478.97" stroke="#181a62"/><path d="M755.55 480.29A136.5 136.5 0 0 1 749.84 481.30" stroke="#161573"/><path d="M743.78 482.10A136.5 136.5 0 0 1 738.01 482.60" stroke="#140f85"/><path d="M731.90 482.87A136.5 136.5 0 0 1 726.10 482.87" stroke="#120a96"/><path d="M719.99 482.60A136.5 136.5 0 0 1 714.22 482.10" stroke="#17119a"/><path d="M708.16 481.30A136.5 136.5 0 0 1 702.45 480.29" stroke="#1d199e"/><path d="M696.48 478.97A136.5 136.5 0 0 1 690.88 477.47" stroke="#2220a2"/><path d="M685.05 475.63A136.5 136.5 0 0 1 679.60 473.65" stroke="#2c2dac"/><path d="M673.95 471.31A136.5 136.5 0 0 1 668.70 468.86" stroke="#363bb6"/><path d="M663.28 466.04A136.5 136.5 0 0 1 658.25 463.14" stroke="#4048c0"/><path d="M653.10 459.85A136.5 136.5 0 0 1 648.35 456.53" stroke="#4954c5"/><path d="M643.50 452.81A136.5 136.5 0 0 1 639.06 449.08" stroke="#5160c9"/><path d="M634.55 444.95A136.5 136.5 0 0 1 630.45 440.85" stroke="#5a6cce"/><path d="M626.32 436.34A136.5 136.5 0 0 1 622.59 431.90" stroke="#6577cd"/><path d="M618.87 427.05A136.5 136.5 0 0 1 615.55 422.30" stroke="#6f81cd"/><path d="M612.26 417.15A136.5 136.5 0 0 1 609.36 412.12" stroke="#7a8ccc"/><path d="M606.54 406.70A136.5 136.5 0 0 1 604.09 401.45" stroke="#8899ce"/><path d="M601.75 395.80A136.5 136.5 0 0 1 599.77 390.35" stroke="#96a5d0"/><path d="M597.93 384.52A136.5 136.5 0 0 1 596.43 378.92" stroke="#a4b2d2"/><path d="M595.11 372.95A136.5 136.5 0 0 1 594.10 367.24" stroke="#adb9d3"/><path d="M593.30 361.18A136.5 136.5 0 0 1 592.80 355.41" stroke="#b5c0d4"/><path d="M592.53 349.30A136.5 136.5 0 0 1 592.53 343.50" stroke="#bec7d5"/><path d="M592.80 337.39A136.5 136.5 0 0 1 593.30 331.62" stroke="#c6ceda"/><path d="M594.10 325.56A136.5 136.5 0 0 1 595.11 319.85" stroke="#cdd4df"/><path d="M596.43 313.88A136.5 136.5 0 0 1 597.93 308.28" stroke="#d3dae3"/><path d="M599.77 302.45A136.5 136.5 0 0 1 601.75 297.00" stroke="#dadfe8"/><path d="M604.09 291.35A136.5 136.5 0 0 1 606.54 286.10" stroke="#e0e5ec"/><path d="M609.36 280.68A136.5 136.5 0 0 1 612.26 275.65" stroke="#e5e9ef"/><path d="M615.55 270.50A136.5 136.5 0 0 1 618.87 265.75" stroke="#e9edf2"/><path d="M622.59 260.90A136.5 136.5 0 0 1 626.32 256.46" stroke="#eef1f5"/><path d="M630.45 251.95A136.5 136.5 0 0 1 634.55 247.85" stroke="#eff2f5"/><path d="M639.06 243.72A136.5 136.5 0 0 1 643.50 239.99" stroke="#eff2f6"/><path d="M648.35 236.27A136.5 136.5 0 0 1 653.10 232.95" stroke="#f0f2f6"/><path d="M658.25 229.66A136.5 136.5 0 0 1 663.28 226.76" stroke="#f0f3f7"/><path d="M668.70 223.94A136.5 136.5 0 0 1 673.95 221.49" stroke="#f1f4f7"/><path d="M679.60 219.15A136.5 136.5 0 0 1 685.05 217.17" stroke="#f2f4f7"/><path d="M690.88 215.33A136.5 136.5 0 0 1 696.48 213.83" stroke="#f2f4f8"/><path d="M702.45 212.51A136.5 136.5 0 0 1 708.16 211.50" stroke="#f3f5f8"/><path d="M714.22 210.70A136.5 136.5 0 0 1 719.99 210.20" stroke="#f3f6f9"/></g>
<g fill="none" stroke-width="3.0"><path d="M726.10 244.13A136.5 136.5 0 0 1 731.90 244.13" stroke="#f4f6f9"/><path d="M738.01 244.40A136.5 136.5 0 0 1 743.78 244.90" stroke="#f3f6f9"/><path d="M749.84 245.70A136.5 136.5 0 0 1 755.55 246.71" stroke="#f3f5f8"/><path d="M761.52 248.03A136.5 136.5 0 0 1 767.12 249.53" stroke="#f2f4f8"/><path d="M772.95 251.37A136.5 136.5 0 0 1 778.40 253.35" stroke="#f2f4f7"/><path d="M784.05 255.69A136.5 136.5 0 0 1 789.30 258.14" stroke="#f1f4f7"/><path d="M794.72 260.96A136.5 136.5 0 0 1 799.75 263.86" stroke="#f0f3f7"/><path d="M804.90 267.15A136.5 136.5 0 0 1 809.65 270.47" stroke="#f0f2f6"/><path d="M814.50 274.19A136.5 136.5 0 0 1 818.94 277.92" stroke="#eff2f6"/><path d="M823.45 282.05A136.5 136.5 0 0 1 827.55 286.15" stroke="#eff2f5"/><path d="M831.68 290.66A136.5 136.5 0 0 1 835.41 295.10" stroke="#eef1f5"/><path d="M839.13 299.95A136.5 136.5 0 0 1 842.45 304.70" stroke="#e9edf2"/><path d="M845.74 309.85A136.5 136.5 0 0 1 848.64 314.88" stroke="#e5e9ef"/><path d="M851.46 320.30A136.5 136.5 0 0 1 853.91 325.55" stroke="#e0e5ec"/><path d="M856.25 331.20A136.5 136.5 0 0 1 858.23 336.65" stroke="#dbe0e8"/><path d="M860.07 342.48A136.5 136.5 0 0 1 861.57 348.08" stroke="#d5dce5"/><path d="M862.89 354.05A136.5 136.5 0 0 1 863.90 359.76" stroke="#d0d7e1"/><path d="M864.70 365.82A136.5 136.5 0 0 1 865.20 371.59" stroke="#cad2dc"/><path d="M865.47 377.70A136.5 136.5 0 0 1 865.47 383.50" stroke="#c4ccd8"/><path d="M865.20 389.61A136.5 136.5 0 0 1 864.70 395.38" stroke="#bfc7d5"/><path d="M863.90 401.44A136.5 136.5 0 0 1 862.89 407.15" stroke="#b9c3d1"/><path d="M861.57 413.12A136.5 136.5 0 0 1 860.07 418.72" stroke="#b4bece"/><path d="M858.23 424.55A136.5 136.5 0 0 1 856.25 430.00" stroke="#a7b2c5"/><path d="M853.91 435.65A136.5 136.5 0 0 1 851.46 440.90" stroke="#9ba6bd"/><path d="M848.64 446.32A136.5 136.5 0 0 1 845.74 451.35" stroke="#8e9ab4"/><path d="M842.45 456.50A136.5 136.5 0 0 1 839.13 461.25" stroke="#7d89a8"/><path d="M835.41 466.10A136.5 136.5 0 0 1 831.68 470.54" stroke="#6d799c"/><path d="M827.55 475.05A136.5 136.5 0 0 1 823.45 479.15" stroke="#5c6890"/><path d="M818.94 483.28A136.5 136.5 0 0 1 814.50 487.01" stroke="#4d5983"/><path d="M809.65 490.73A136.5 136.5 0 0 1 804.90 494.05" stroke="#3f4977"/><path d="M799.75 497.34A136.5 136.5 0 0 1 794.72 500.24" stroke="#303a6a"/><path d="M789.30 503.06A136.5 136.5 0 0 1 784.05 505.51" stroke="#282f67"/><path d="M778.40 507.85A136.5 136.5 0 0 1 772.95 509.83" stroke="#202565"/><path d="M767.12 511.67A136.5 136.5 0 0 1 761.52 513.17" stroke="#181a62"/><path d="M755.55 514.49A136.5 136.5 0 0 1 749.84 515.50" stroke="#161573"/><path d="M743.78 516.30A136.5 136.5 0 0 1 738.01 516.80" stroke="#140f85"/><path d="M731.90 517.07A136.5 136.5 0 0 1 726.10 517.07" stroke="#120a96"/><path d="M719.99 516.80A136.5 136.5 0 0 1 714.22 516.30" stroke="#17119a"/><path d="M708.16 515.50A136.5 136.5 0 0 1 702.45 514.49" stroke="#1d199e"/><path d="M696.48 513.17A136.5 136.5 0 0 1 690.88 511.67" stroke="#2220a2"/><path d="M685.05 509.83A136.5 136.5 0 0 1 679.60 507.85" stroke="#2c2dac"/><path d="M673.95 505.51A136.5 136.5 0 0 1 668.70 503.06" stroke="#363bb6"/><path d="M663.28 500.24A136.5 136.5 0 0 1 658.25 497.34" stroke="#4048c0"/><path d="M653.10 494.05A136.5 136.5 0 0 1 648.35 490.73" stroke="#4954c5"/><path d="M643.50 487.01A136.5 136.5 0 0 1 639.06 483.28" stroke="#5160c9"/><path d="M634.55 479.15A136.5 136.5 0 0 1 630.45 475.05" stroke="#5a6cce"/><path d="M626.32 470.54A136.5 136.5 0 0 1 622.59 466.10" stroke="#6577cd"/><path d="M618.87 461.25A136.5 136.5 0 0 1 615.55 456.50" stroke="#6f81cd"/><path d="M612.26 451.35A136.5 136.5 0 0 1 609.36 446.32" stroke="#7a8ccc"/><path d="M606.54 440.90A136.5 136.5 0 0 1 604.09 435.65" stroke="#8899ce"/><path d="M601.75 430.00A136.5 136.5 0 0 1 599.77 424.55" stroke="#96a5d0"/><path d="M597.93 418.72A136.5 136.5 0 0 1 596.43 413.12" stroke="#a4b2d2"/><path d="M595.11 407.15A136.5 136.5 0 0 1 594.10 401.44" stroke="#adb9d3"/><path d="M593.30 395.38A136.5 136.5 0 0 1 592.80 389.61" stroke="#b5c0d4"/><path d="M592.53 383.50A136.5 136.5 0 0 1 592.53 377.70" stroke="#bec7d5"/><path d="M592.80 371.59A136.5 136.5 0 0 1 593.30 365.82" stroke="#c6ceda"/><path d="M594.10 359.76A136.5 136.5 0 0 1 595.11 354.05" stroke="#cdd4df"/><path d="M596.43 348.08A136.5 136.5 0 0 1 597.93 342.48" stroke="#d3dae3"/><path d="M599.77 336.65A136.5 136.5 0 0 1 601.75 331.20" stroke="#dadfe8"/><path d="M604.09 325.55A136.5 136.5 0 0 1 606.54 320.30" stroke="#e0e5ec"/><path d="M609.36 314.88A136.5 136.5 0 0 1 612.26 309.85" stroke="#e5e9ef"/><path d="M615.55 304.70A136.5 136.5 0 0 1 618.87 299.95" stroke="#e9edf2"/><path d="M622.59 295.10A136.5 136.5 0 0 1 626.32 290.66" stroke="#eef1f5"/><path d="M630.45 286.15A136.5 136.5 0 0 1 634.55 282.05" stroke="#eff2f5"/><path d="M639.06 277.92A136.5 136.5 0 0 1 643.50 274.19" stroke="#eff2f6"/><path d="M648.35 270.47A136.5 136.5 0 0 1 653.10 267.15" stroke="#f0f2f6"/><path d="M658.25 263.86A136.5 136.5 0 0 1 663.28 260.96" stroke="#f0f3f7"/><path d="M668.70 258.14A136.5 136.5 0 0 1 673.95 255.69" stroke="#f1f4f7"/><path d="M679.60 253.35A136.5 136.5 0 0 1 685.05 251.37" stroke="#f2f4f7"/><path d="M690.88 249.53A136.5 136.5 0 0 1 696.48 248.03" stroke="#f2f4f8"/><path d="M702.45 246.71A136.5 136.5 0 0 1 708.16 245.70" stroke="#f3f5f8"/><path d="M714.22 244.90A136.5 136.5 0 0 1 719.99 244.40" stroke="#f3f6f9"/></g>
<g fill="none" stroke-width="3.0"><path d="M726.10 278.33A136.5 136.5 0 0 1 731.90 278.33" stroke="#f4f6f9"/><path d="M738.01 278.60A136.5 136.5 0 0 1 743.78 279.10" stroke="#f3f6f9"/><path d="M749.84 279.90A136.5 136.5 0 0 1 755.55 280.91" stroke="#f3f5f8"/><path d="M761.52 282.23A136.5 136.5 0 0 1 767.12 283.73" stroke="#f2f4f8"/><path d="M772.95 285.57A136.5 136.5 0 0 1 778.40 287.55" stroke="#f2f4f7"/><path d="M784.05 289.89A136.5 136.5 0 0 1 789.30 292.34" stroke="#f1f4f7"/><path d="M794.72 295.16A136.5 136.5 0 0 1 799.75 298.06" stroke="#f0f3f7"/><path d="M804.90 301.35A136.5 136.5 0 0 1 809.65 304.67" stroke="#f0f2f6"/><path d="M814.50 308.39A136.5 136.5 0 0 1 818.94 312.12" stroke="#eff2f6"/><path d="M823.45 316.25A136.5 136.5 0 0 1 827.55 320.35" stroke="#eff2f5"/><path d="M831.68 324.86A136.5 136.5 0 0 1 835.41 329.30" stroke="#eef1f5"/><path d="M839.13 334.15A136.5 136.5 0 0 1 842.45 338.90" stroke="#e9edf2"/><path d="M845.74 344.05A136.5 136.5 0 0 1 848.64 349.08" stroke="#e5e9ef"/><path d="M851.46 354.50A136.5 136.5 0 0 1 853.91 359.75" stroke="#e0e5ec"/><path d="M856.25 365.40A136.5 136.5 0 0 1 858.23 370.85" stroke="#dbe0e8"/><path d="M860.07 376.68A136.5 136.5 0 0 1 861.57 382.28" stroke="#d5dce5"/><path d="M862.89 388.25A136.5 136.5 0 0 1 863.90 393.96" stroke="#d0d7e1"/><path d="M864.70 400.02A136.5 136.5 0 0 1 865.20 405.79" stroke="#cad2dc"/><path d="M865.47 411.90A136.5 136.5 0 0 1 865.47 417.70" stroke="#c4ccd8"/><path d="M865.20 423.81A136.5 136.5 0 0 1 864.70 429.58" stroke="#bfc7d5"/><path d="M863.90 435.64A136.5 136.5 0 0 1 862.89 441.35" stroke="#b9c3d1"/><path d="M861.57 447.32A136.5 136.5 0 0 1 860.07 452.92" stroke="#b4bece"/><path d="M858.23 458.75A136.5 136.5 0 0 1 856.25 464.20" stroke="#a7b2c5"/><path d="M853.91 469.85A136.5 136.5 0 0 1 851.46 475.10" stroke="#9ba6bd"/><path d="M848.64 480.52A136.5 136.5 0 0 1 845.74 485.55" stroke="#8e9ab4"/><path d="M842.45 490.70A136.5 136.5 0 0 1 839.13 495.45" stroke="#7d89a8"/><path d="M835.41 500.30A136.5 136.5 0 0 1 831.68 504.74" stroke="#6d799c"/><path d="M827.55 509.25A136.5 136.5 0 0 1 823.45 513.35" stroke="#5c6890"/><path d="M818.94 517.48A136.5 136.5 0 0 1 814.50 521.21" stroke="#4d5983"/><path d="M809.65 524.93A136.5 136.5 0 0 1 804.90 528.25" stroke="#3f4977"/><path d="M799.75 531.54A136.5 136.5 0 0 1 794.72 534.44" stroke="#303a6a"/><path d="M789.30 537.26A136.5 136.5 0 0 1 784.05 539.71" stroke="#282f67"/><path d="M778.40 542.05A136.5 136.5 0 0 1 772.95 544.03" stroke="#202565"/><path d="M767.12 545.87A136.5 136.5 0 0 1 761.52 547.37" stroke="#181a62"/><path d="M755.55 548.69A136.5 136.5 0 0 1 749.84 549.70" stroke="#161573"/><path d="M743.78 550.50A136.5 136.5 0 0 1 738.01 551.00" stroke="#140f85"/><path d="M731.90 551.27A136.5 136.5 0 0 1 726.10 551.27" stroke="#120a96"/><path d="M719.99 551.00A136.5 136.5 0 0 1 714.22 550.50" stroke="#17119a"/><path d="M708.16 549.70A136.5 136.5 0 0 1 702.45 548.69" stroke="#1d199e"/><path d="M696.48 547.37A136.5 136.5 0 0 1 690.88 545.87" stroke="#2220a2"/><path d="M685.05 544.03A136.5 136.5 0 0 1 679.60 542.05" stroke="#2c2dac"/><path d="M673.95 539.71A136.5 136.5 0 0 1 668.70 537.26" stroke="#363bb6"/><path d="M663.28 534.44A136.5 136.5 0 0 1 658.25 531.54" stroke="#4048c0"/><path d="M653.10 528.25A136.5 136.5 0 0 1 648.35 524.93" stroke="#4954c5"/><path d="M643.50 521.21A136.5 136.5 0 0 1 639.06 517.48" stroke="#5160c9"/><path d="M634.55 513.35A136.5 136.5 0 0 1 630.45 509.25" stroke="#5a6cce"/><path d="M626.32 504.74A136.5 136.5 0 0 1 622.59 500.30" stroke="#6577cd"/><path d="M618.87 495.45A136.5 136.5 0 0 1 615.55 490.70" stroke="#6f81cd"/><path d="M612.26 485.55A136.5 136.5 0 0 1 609.36 480.52" stroke="#7a8ccc"/><path d="M606.54 475.10A136.5 136.5 0 0 1 604.09 469.85" stroke="#8899ce"/><path d="M601.75 464.20A136.5 136.5 0 0 1 599.77 458.75" stroke="#96a5d0"/><path d="M597.93 452.92A136.5 136.5 0 0 1 596.43 447.32" stroke="#a4b2d2"/><path d="M595.11 441.35A136.5 136.5 0 0 1 594.10 435.64" stroke="#adb9d3"/><path d="M593.30 429.58A136.5 136.5 0 0 1 592.80 423.81" stroke="#b5c0d4"/><path d="M592.53 417.70A136.5 136.5 0 0 1 592.53 411.90" stroke="#bec7d5"/><path d="M592.80 405.79A136.5 136.5 0 0 1 593.30 400.02" stroke="#c6ceda"/><path d="M594.10 393.96A136.5 136.5 0 0 1 595.11 388.25" stroke="#cdd4df"/><path d="M596.43 382.28A136.5 136.5 0 0 1 597.93 376.68" stroke="#d3dae3"/><path d="M599.77 370.85A136.5 136.5 0 0 1 601.75 365.40" stroke="#dadfe8"/><path d="M604.09 359.75A136.5 136.5 0 0 1 606.54 354.50" stroke="#e0e5ec"/><path d="M609.36 349.08A136.5 136.5 0 0 1 612.26 344.05" stroke="#e5e9ef"/><path d="M615.55 338.90A136.5 136.5 0 0 1 618.87 334.15" stroke="#e9edf2"/><path d="M622.59 329.30A136.5 136.5 0 0 1 626.32 324.86" stroke="#eef1f5"/><path d="M630.45 320.35A136.5 136.5 0 0 1 634.55 316.25" stroke="#eff2f5"/><path d="M639.06 312.12A136.5 136.5 0 0 1 643.50 308.39" stroke="#eff2f6"/><path d="M648.35 304.67A136.5 136.5 0 0 1 653.10 301.35" stroke="#f0f2f6"/><path d="M658.25 298.06A136.5 136.5 0 0 1 663.28 295.16" stroke="#f0f3f7"/><path d="M668.70 292.34A136.5 136.5 0 0 1 673.95 289.89" stroke="#f1f4f7"/><path d="M679.60 287.55A136.5 136.5 0 0 1 685.05 285.57" stroke="#f2f4f7"/><path d="M690.88 283.73A136.5 136.5 0 0 1 696.48 282.23" stroke="#f2f4f8"/><path d="M702.45 280.91A136.5 136.5 0 0 1 708.16 279.90" stroke="#f3f5f8"/><path d="M714.22 279.10A136.5 136.5 0 0 1 719.99 278.60" stroke="#f3f6f9"/></g>
<circle cx="729" cy="273" r="138" fill="#002cfe"/>
<circle cx="678.5" cy="244.6" r="57.3" fill="#fff"/>
<circle cx="738" cy="328.6" r="62" fill="#002cfe"/><circle cx="738" cy="328.6" r="57" fill="#fff"/>
<circle cx="773.8" cy="233" r="62.3" fill="#002cfe"/><circle cx="773.8" cy="233" r="57.3" fill="#fff"/>
<g fill="none" stroke="#002cfe" stroke-width="6" stroke-linecap="round" stroke-linejoin="round"><path d="M651.80 243.90L669.70 261.50L705.40 224.80"/><path d="M711.30 327.90L729.20 345.50L764.90 308.80"/><path d="M747.10 232.30L765.00 249.90L800.70 213.20"/></g>
<path d="M1185.23 182.34L1188.38 182.50L1191.53 182.71L1194.68 182.97L1197.82 183.29L1200.96 183.66L1204.08 184.09L1207.20 184.57L1210.32 185.11L1213.42 185.70L1216.51 186.35L1219.59 187.05L1222.66 187.80L1225.71 188.61L1228.75 189.47L1231.77 190.38L1234.78 191.35L1237.77 192.36L1240.74 193.43L1243.69 194.56L1246.62 195.73L1249.53 196.95L1252.42 198.23L1255.29 199.55L1258.13 200.93L1260.95 202.35L1263.74 203.82L1266.51 205.35L1269.25 206.92L1271.96 208.53L1274.65 210.20L1277.30 211.91L1279.92 213.67L1282.52 215.47L1285.08 217.32L1287.60 219.21L1290.10 221.15L1292.56 223.13L1294.98 225.15L1297.37 227.21L1299.73 229.32L1302.04 231.46L1304.32 233.65L1306.56 235.88L1308.76 238.14L1310.92 240.44L1313.04 242.78L1315.12 245.16L1317.16 247.57L1319.16 250.02L1321.11 252.51L1323.01 255.02L1324.88 257.57L1326.70 260.15L1328.47 262.76L1330.20 265.41L1331.88 268.08L1333.51 270.78L1335.10 273.51L1336.64 276.27L1338.13 279.05L1339.57 281.86L1340.96 284.70L1342.31 287.56L1343.60 290.44L1344.84 293.34L1346.03 296.27L1347.17 299.21L1348.26 302.18L1349.30 305.16L1350.28 308.16L1351.21 311.18L1352.09 314.21L1352.92 317.26L1353.69 320.32L1354.41 323.39L1355.07 326.48L1355.68 329.58L1356.24 332.69L1356.74 335.81L1357.19 338.93L1357.58 342.06L1357.92 345.20L1358.21 348.35L1358.43 351.50L1358.61 354.65L1358.73 357.81L1358.79 360.97L1358.80 364.12L1358.75 367.28L1358.65 370.44L1358.49 373.59L1358.28 376.74L1358.01 379.89L1357.69 383.03L1357.31 386.16L1356.88 389.29L1356.39 392.41L1355.85 395.52L1355.26 398.63L1354.61 401.72L1353.90 404.79L1353.15 407.86L1352.34 410.91L1351.47 413.95L1350.56 416.97L1349.59 419.98L1348.57 422.97L1347.49 425.94L1346.37 428.89L1345.19 431.82L1343.96 434.73L1342.69 437.61L1341.36 440.48L1339.98 443.32L1338.55 446.14L1337.08 448.93L1335.55 451.69L1333.98 454.43L1332.36 457.14L1330.69 459.82L1328.97 462.48L1327.21 465.10L1325.41 467.69L1323.56 470.25L1321.66 472.77L1319.72 475.26L1317.74 477.72L1315.72 480.15L1313.65 482.53L1311.54 484.88L1309.39 487.20L1307.20 489.47L1304.97 491.71L1302.71 493.91L1300.40 496.07L1298.06 498.18L1295.68 500.26L1293.26 502.29L1290.81 504.29L1288.33 506.24L1285.81 508.14L1283.26 510.00L1280.67 511.82L1278.06 513.59L1275.41 515.31L1272.74 516.99L1270.04 518.62L1267.30 520.21L1264.54 521.74L1261.76 523.23L1258.95 524.67L1256.11 526.06L1253.25 527.40L1250.37 528.68L1247.46 529.92L1244.54 531.11L1241.59 532.25L1238.63 533.33L1235.64 534.37L1232.64 535.35L1229.62 536.27L1226.59 537.15L1223.54 537.97L1220.48 538.74L1217.40 539.45L1214.31 540.12L1211.21 540.72L1208.10 541.28L1204.99 541.77L1201.86 542.22L1198.73 542.61L1195.59 542.94L1192.44 543.22L1189.29 543.45L1186.14 543.62L1182.98 543.73L1179.82 543.79L1176.67 543.80L1173.51 543.74L1170.35 543.64L1167.20 543.48L1164.05 543.26L1160.90 542.99L1157.76 542.66L1154.63 542.28L1151.50 541.85L1148.38 541.36L1145.27 540.81L1142.17 540.21L1139.08 539.56L1136.00 538.85L1159.08 452.01L1160.64 452.33L1162.21 452.62L1163.78 452.88L1165.35 453.12L1166.93 453.32L1168.51 453.50L1170.10 453.66L1171.69 453.78L1173.28 453.88L1174.87 453.95L1176.46 453.99L1178.05 454.00L1179.64 453.99L1181.23 453.94L1182.82 453.87L1184.41 453.77L1186.00 453.65L1187.58 453.49L1189.16 453.31L1190.74 453.10L1192.32 452.87L1193.89 452.60L1195.45 452.31L1197.01 451.99L1198.56 451.65L1200.11 451.27L1201.65 450.87L1203.19 450.45L1204.71 449.99L1206.23 449.51L1207.74 449.00L1209.24 448.47L1210.73 447.91L1212.21 447.33L1213.68 446.71L1215.14 446.08L1216.58 445.41L1218.02 444.73L1219.44 444.01L1220.85 443.28L1222.25 442.52L1223.64 441.73L1225.01 440.92L1226.36 440.08L1227.70 439.23L1229.03 438.35L1230.34 437.44L1231.63 436.51L1232.91 435.57L1234.17 434.59L1235.42 433.60L1236.64 432.59L1237.85 431.55L1239.04 430.49L1240.21 429.41L1241.36 428.31L1242.50 427.20L1243.61 426.06L1244.70 424.90L1245.78 423.72L1246.83 422.53L1247.86 421.32L1248.87 420.09L1249.86 418.84L1250.82 417.57L1251.76 416.29L1252.69 414.99L1253.58 413.68L1254.46 412.35L1255.31 411.00L1256.14 409.64L1256.94 408.27L1257.72 406.88L1258.48 405.48L1259.21 404.07L1259.91 402.64L1260.59 401.20L1261.25 399.75L1261.88 398.29L1262.48 396.81L1263.06 395.33L1263.62 393.84L1264.14 392.34L1264.64 390.83L1265.12 389.31L1265.56 387.78L1265.98 386.24L1266.37 384.70L1266.74 383.15L1267.08 381.59L1267.39 380.03L1267.68 378.47L1267.93 376.90L1268.16 375.32L1268.36 373.74L1268.54 372.16L1268.68 370.57L1268.80 368.99L1268.89 367.40L1268.96 365.81L1268.99 364.22L1269.00 362.62L1268.98 361.03L1268.93 359.44L1268.85 357.85L1268.75 356.26L1268.62 354.68L1268.46 353.09L1268.27 351.51L1268.06 349.93L1267.81 348.36L1267.55 346.79L1267.25 345.23L1266.92 343.67L1266.57 342.12L1266.19 340.57L1265.79 339.03L1265.35 337.50L1264.89 335.98L1264.41 334.46L1263.90 332.95L1263.36 331.46L1262.79 329.97L1262.20 328.49L1261.59 327.02L1260.94 325.56L1260.28 324.12L1259.58 322.69L1258.87 321.27L1258.12 319.86L1257.36 318.46L1256.56 317.08L1255.75 315.71L1254.91 314.36L1254.05 313.02L1253.16 311.70L1252.25 310.39L1251.32 309.10L1250.37 307.83L1249.39 306.57L1248.39 305.33L1247.37 304.11L1246.33 302.90L1245.27 301.72L1244.19 300.55L1243.09 299.40L1241.96 298.27L1240.82 297.16L1239.66 296.08L1238.48 295.01L1237.28 293.96L1236.07 292.93L1234.83 291.93L1233.58 290.94L1232.31 289.98L1231.02 289.04L1229.72 288.13L1228.41 287.24L1227.07 286.37L1225.72 285.52L1224.36 284.70L1222.98 283.90L1221.59 283.12L1220.19 282.37L1218.77 281.65L1217.34 280.94L1215.90 280.27L1214.45 279.62L1212.99 278.99L1211.51 278.39L1210.03 277.82L1208.53 277.27L1207.03 276.75L1205.51 276.26L1203.99 275.79L1202.46 275.35L1200.93 274.94L1199.38 274.55L1197.83 274.19L1196.27 273.85L1194.71 273.55L1193.15 273.27L1191.57 273.02L1190.00 272.79L1188.42 272.60L1186.83 272.43L1185.25 272.29Z" fill="#002cfe"/>
<path d="M1127.86 536.71L1124.82 535.80L1121.81 534.85L1118.81 533.84L1115.83 532.77L1112.87 531.66L1109.93 530.50L1107.01 529.28L1104.11 528.01L1101.23 526.69L1098.38 525.32L1095.55 523.91L1092.75 522.44L1089.97 520.92L1087.22 519.36L1084.50 517.75L1081.80 516.09L1079.14 514.38L1076.51 512.63L1073.90 510.83L1071.33 508.98L1068.80 507.09L1066.29 505.16L1063.82 503.18L1061.38 501.16L1058.98 499.10L1056.62 497.00L1054.29 494.85L1052.01 492.67L1049.76 490.45L1047.55 488.18L1045.38 485.88L1043.25 483.54L1041.16 481.16L1039.11 478.75L1037.11 476.30L1035.15 473.82L1033.23 471.30L1031.35 468.75L1029.53 466.17L1027.74 463.56L1026.01 460.91L1024.32 458.24L1022.67 455.53L1021.08 452.80L1019.53 450.04L1018.03 447.26L1016.58 444.44L1015.18 441.61L1013.83 438.75L1012.53 435.86L1011.28 432.95L1010.08 430.03L1008.94 427.08L1007.84 424.11L1006.80 421.12L1005.81 418.12L1004.87 415.10L1003.98 412.06L1003.15 409.01L1002.37 405.94L1001.65 402.86L1000.98 399.77L1000.36 396.67L999.80 393.55L999.29 390.43L998.84 387.30L998.44 384.16L998.10 381.01L997.81 377.86L997.58 374.71L997.40 371.55L997.28 368.39L997.21 365.22L997.20 362.06L997.25 358.90L997.35 355.73L997.50 352.57L997.71 349.42L997.98 346.26L998.30 343.12L998.67 339.97L999.10 336.84L999.59 333.71L1000.13 330.60L1000.72 327.49L1001.37 324.39L1002.07 321.31L1002.83 318.24L1089.61 341.37L1089.24 342.93L1088.90 344.49L1088.59 346.05L1088.31 347.63L1088.05 349.20L1087.82 350.78L1087.62 352.37L1087.45 353.96L1087.31 355.55L1087.19 357.14L1087.10 358.73L1087.04 360.33L1087.01 361.93L1087.00 363.52L1087.02 365.12L1087.08 366.72L1087.16 368.31L1087.26 369.91L1087.40 371.50L1087.56 373.09L1087.75 374.67L1087.97 376.25L1088.22 377.83L1088.49 379.40L1088.79 380.97L1089.12 382.54L1089.48 384.09L1089.86 385.64L1090.27 387.19L1090.71 388.72L1091.18 390.25L1091.67 391.77L1092.19 393.28L1092.73 394.78L1093.30 396.27L1093.90 397.75L1094.52 399.23L1095.17 400.68L1095.84 402.13L1096.54 403.57L1097.27 404.99L1098.02 406.40L1098.79 407.80L1099.59 409.18L1100.41 410.55L1101.26 411.91L1102.13 413.24L1103.02 414.57L1103.94 415.88L1104.88 417.17L1105.84 418.44L1106.82 419.70L1107.83 420.94L1108.86 422.16L1109.91 423.37L1110.98 424.55L1112.07 425.72L1113.18 426.87L1114.31 428.00L1115.46 429.10L1116.63 430.19L1117.82 431.26L1119.03 432.30L1120.25 433.33L1121.49 434.33L1122.75 435.31L1124.03 436.27L1125.33 437.21L1126.64 438.12L1127.96 439.01L1129.30 439.87L1130.66 440.72L1132.03 441.54L1133.42 442.33L1134.82 443.10L1136.23 443.85L1137.65 444.57L1139.09 445.26L1140.54 445.93L1142.00 446.58L1143.48 447.20L1144.96 447.79L1146.45 448.36L1147.95 448.90L1149.47 449.41L1150.99 449.90Z" fill="#00156a"/>
<path d="M1005.11 310.10L1006.07 307.06L1007.09 304.03L1008.16 301.02L1009.28 298.02L1010.45 295.05L1011.68 292.10L1012.96 289.17L1014.29 286.27L1015.67 283.39L1017.10 280.53L1018.59 277.70L1020.12 274.90L1021.70 272.12L1023.33 269.37L1025.01 266.65L1026.74 263.96L1028.51 261.31L1030.33 258.68L1032.20 256.09L1034.11 253.53L1036.07 251.00L1038.07 248.51L1040.11 246.05L1042.20 243.64L1044.33 241.25L1046.51 238.91L1048.72 236.61L1050.97 234.34L1053.27 232.12L1055.60 229.93L1057.97 227.79L1060.38 225.69L1062.82 223.63L1065.30 221.62L1067.82 219.65L1070.37 217.73L1072.96 215.85L1075.57 214.01L1078.22 212.23L1080.90 210.49L1083.61 208.79L1086.35 207.15L1131.12 285.00L1129.76 285.84L1128.41 286.70L1127.08 287.58L1125.76 288.49L1124.46 289.41L1123.18 290.36L1121.91 291.34L1120.66 292.33L1119.43 293.35L1118.22 294.39L1117.02 295.45L1115.85 296.53L1114.69 297.63L1113.55 298.76L1112.43 299.90L1111.34 301.06L1110.26 302.24L1109.20 303.44L1108.17 304.65L1107.15 305.89L1106.16 307.14L1105.19 308.41L1104.24 309.70L1103.32 311.00L1102.42 312.32L1101.54 313.65L1100.69 315.00L1099.86 316.37L1099.05 317.75L1098.27 319.14L1097.51 320.55L1096.78 321.97L1096.07 323.40L1095.38 324.85L1094.73 326.30L1094.10 327.77L1093.49 329.25L1092.91 330.74L1092.36 332.24L1091.83 333.74Z" fill="#3b5ef5"/>
<path d="M1083.49 165.27L1086.38 163.77L1089.30 162.32L1092.25 160.93L1095.22 159.58L1098.22 158.29L1101.24 157.06L1104.28 155.88L1107.34 154.75L1110.42 153.68L1113.52 152.67L1116.64 151.71L1119.77 150.81L1122.92 149.96L1126.09 149.17L1129.27 148.44L1132.46 147.77L1135.66 147.15L1138.87 146.59L1142.10 146.09L1145.33 145.65L1148.57 145.27L1151.81 144.94L1155.06 144.68L1158.32 144.47L1161.58 144.32L1164.84 144.23L1168.10 144.20L1167.80 233.50L1166.18 233.52L1164.55 233.57L1162.93 233.65L1161.31 233.76L1159.69 233.90L1158.08 234.06L1156.46 234.26L1154.86 234.48L1153.25 234.73L1151.65 235.01L1150.06 235.32L1148.47 235.65L1146.89 236.02L1145.31 236.41L1143.74 236.83L1142.18 237.28L1140.63 237.75L1139.08 238.26L1137.55 238.79L1136.02 239.34L1134.51 239.93L1133.00 240.54L1131.51 241.18L1130.03 241.84L1128.56 242.53Z" fill="#d1e3f5"/>
<g fill="none" stroke-width="3.0"><path d="M1624.10 139.72A203.8 203.8 0 0 1 1629.90 139.72" stroke="#120a96"/><path d="M1635.95 139.90A203.8 203.8 0 0 1 1641.74 140.23" stroke="#130d8a"/><path d="M1647.78 140.76A203.8 203.8 0 0 1 1653.54 141.44" stroke="#140f7e"/><path d="M1659.53 142.31A203.8 203.8 0 0 1 1665.24 143.32" stroke="#151272"/><path d="M1671.17 144.54A203.8 203.8 0 0 1 1676.82 145.88" stroke="#161566"/><path d="M1682.67 147.45A203.8 203.8 0 0 1 1688.22 149.11" stroke="#191a61"/><path d="M1693.97 151.02A203.8 203.8 0 0 1 1699.42 153.00" stroke="#202364"/><path d="M1705.05 155.24A203.8 203.8 0 0 1 1710.38 157.54" stroke="#272c67"/><path d="M1715.86 160.09A203.8 203.8 0 0 1 1721.05 162.70" stroke="#2f366c"/><path d="M1726.38 165.57A203.8 203.8 0 0 1 1731.40 168.47" stroke="#3a4274"/><path d="M1736.56 171.65A203.8 203.8 0 0 1 1741.40 174.84" stroke="#454e7c"/><path d="M1746.36 178.31A203.8 203.8 0 0 1 1751.01 181.78" stroke="#515b85"/><path d="M1755.77 185.53A203.8 203.8 0 0 1 1760.21 189.26" stroke="#5e688e"/><path d="M1764.73 193.29A203.8 203.8 0 0 1 1768.95 197.27" stroke="#6b7597"/><path d="M1773.23 201.55A203.8 203.8 0 0 1 1777.21 205.77" stroke="#7781a0"/><path d="M1781.24 210.29A203.8 203.8 0 0 1 1784.97 214.73" stroke="#828ca8"/><path d="M1788.72 219.49A203.8 203.8 0 0 1 1792.19 224.14" stroke="#8d97b0"/><path d="M1795.66 229.10A203.8 203.8 0 0 1 1798.85 233.94" stroke="#97a1b8"/><path d="M1802.03 239.10A203.8 203.8 0 0 1 1804.93 244.12" stroke="#a2acc0"/><path d="M1807.80 249.45A203.8 203.8 0 0 1 1810.41 254.64" stroke="#a8b1c4"/><path d="M1812.96 260.12A203.8 203.8 0 0 1 1815.26 265.45" stroke="#aeb7c8"/><path d="M1817.50 271.08A203.8 203.8 0 0 1 1819.48 276.53" stroke="#b3bccc"/><path d="M1821.39 282.28A203.8 203.8 0 0 1 1823.05 287.83" stroke="#b9c1d0"/><path d="M1824.62 293.68A203.8 203.8 0 0 1 1825.96 299.33" stroke="#bdc5d3"/><path d="M1827.18 305.26A203.8 203.8 0 0 1 1828.19 310.97" stroke="#bfc7d4"/><path d="M1829.06 316.96A203.8 203.8 0 0 1 1829.74 322.72" stroke="#c0c8d5"/><path d="M1830.27 328.76A203.8 203.8 0 0 1 1830.60 334.55" stroke="#c2cad7"/><path d="M1830.78 340.60A203.8 203.8 0 0 1 1830.78 346.40" stroke="#c4ccd8"/><path d="M1830.60 352.45A203.8 203.8 0 0 1 1830.27 358.24" stroke="#c0c9d6"/><path d="M1829.74 364.28A203.8 203.8 0 0 1 1829.06 370.04" stroke="#bdc6d4"/><path d="M1828.19 376.03A203.8 203.8 0 0 1 1827.18 381.74" stroke="#b9c3d1"/><path d="M1825.96 387.67A203.8 203.8 0 0 1 1824.62 393.32" stroke="#b6c0cf"/><path d="M1823.05 399.17A203.8 203.8 0 0 1 1821.39 404.72" stroke="#b0bacb"/><path d="M1819.48 410.47A203.8 203.8 0 0 1 1817.50 415.92" stroke="#a7b2c5"/><path d="M1815.26 421.55A203.8 203.8 0 0 1 1812.96 426.88" stroke="#9faac0"/><path d="M1810.41 432.36A203.8 203.8 0 0 1 1807.80 437.55" stroke="#96a2ba"/><path d="M1804.93 442.88A203.8 203.8 0 0 1 1802.03 447.90" stroke="#8e9ab4"/><path d="M1798.85 453.06A203.8 203.8 0 0 1 1795.66 457.90" stroke="#838fac"/><path d="M1792.19 462.86A203.8 203.8 0 0 1 1788.72 467.51" stroke="#7884a4"/><path d="M1784.97 472.27A203.8 203.8 0 0 1 1781.24 476.71" stroke="#6d799c"/><path d="M1777.21 481.23A203.8 203.8 0 0 1 1773.23 485.45" stroke="#626e94"/><path d="M1768.95 489.73A203.8 203.8 0 0 1 1764.73 493.71" stroke="#57638c"/><path d="M1760.21 497.74A203.8 203.8 0 0 1 1755.77 501.47" stroke="#4d5983"/><path d="M1751.01 505.22A203.8 203.8 0 0 1 1746.36 508.69" stroke="#444e7b"/><path d="M1741.40 512.16A203.8 203.8 0 0 1 1736.56 515.35" stroke="#3a4472"/><path d="M1731.40 518.53A203.8 203.8 0 0 1 1726.38 521.43" stroke="#303a6a"/><path d="M1721.05 524.30A203.8 203.8 0 0 1 1715.86 526.91" stroke="#2b3368"/><path d="M1710.38 529.46A203.8 203.8 0 0 1 1705.05 531.76" stroke="#252c66"/><path d="M1699.42 534.00A203.8 203.8 0 0 1 1693.97 535.98" stroke="#202565"/><path d="M1688.22 537.89A203.8 203.8 0 0 1 1682.67 539.55" stroke="#1b1e63"/><path d="M1676.82 541.12A203.8 203.8 0 0 1 1671.17 542.46" stroke="#171868"/><path d="M1665.24 543.68A203.8 203.8 0 0 1 1659.53 544.69" stroke="#161573"/><path d="M1653.54 545.56A203.8 203.8 0 0 1 1647.78 546.24" stroke="#15117f"/><path d="M1641.74 546.77A203.8 203.8 0 0 1 1635.95 547.10" stroke="#130e8a"/><path d="M1629.90 547.28A203.8 203.8 0 0 1 1624.10 547.28" stroke="#120a96"/><path d="M1618.05 547.10A203.8 203.8 0 0 1 1612.26 546.77" stroke="#160f99"/><path d="M1606.22 546.24A203.8 203.8 0 0 1 1600.46 545.56" stroke="#19149b"/><path d="M1594.47 544.69A203.8 203.8 0 0 1 1588.76 543.68" stroke="#1d199e"/><path d="M1582.83 542.46A203.8 203.8 0 0 1 1577.18 541.12" stroke="#201ea1"/><path d="M1571.33 539.55A203.8 203.8 0 0 1 1565.78 537.89" stroke="#2524a5"/><path d="M1560.03 535.98A203.8 203.8 0 0 1 1554.58 534.00" stroke="#2c2dac"/><path d="M1548.95 531.76A203.8 203.8 0 0 1 1543.62 529.46" stroke="#3336b3"/><path d="M1538.14 526.91A203.8 203.8 0 0 1 1532.95 524.30" stroke="#393fb9"/><path d="M1527.62 521.43A203.8 203.8 0 0 1 1522.60 518.53" stroke="#4048c0"/><path d="M1517.44 515.35A203.8 203.8 0 0 1 1512.60 512.16" stroke="#4650c3"/><path d="M1507.64 508.69A203.8 203.8 0 0 1 1502.99 505.22" stroke="#4c58c6"/><path d="M1498.23 501.47A203.8 203.8 0 0 1 1493.79 497.74" stroke="#5160c9"/><path d="M1489.27 493.71A203.8 203.8 0 0 1 1485.05 489.73" stroke="#5768cc"/><path d="M1480.77 485.45A203.8 203.8 0 0 1 1476.79 481.23" stroke="#5e70ce"/><path d="M1472.76 476.71A203.8 203.8 0 0 1 1469.03 472.27" stroke="#6577cd"/><path d="M1465.28 467.51A203.8 203.8 0 0 1 1461.81 462.86" stroke="#6c7ecd"/><path d="M1458.34 457.90A203.8 203.8 0 0 1 1455.15 453.06" stroke="#7385cc"/><path d="M1451.97 447.90A203.8 203.8 0 0 1 1449.07 442.88" stroke="#7a8ccc"/><path d="M1446.20 437.55A203.8 203.8 0 0 1 1443.59 432.36" stroke="#8394cd"/><path d="M1441.04 426.88A203.8 203.8 0 0 1 1438.74 421.55" stroke="#8d9dcf"/><path d="M1436.50 415.92A203.8 203.8 0 0 1 1434.52 410.47" stroke="#96a5d0"/><path d="M1432.61 404.72A203.8 203.8 0 0 1 1430.95 399.17" stroke="#9faed1"/><path d="M1429.38 393.32A203.8 203.8 0 0 1 1428.04 387.67" stroke="#a7b4d2"/><path d="M1426.82 381.74A203.8 203.8 0 0 1 1425.81 376.03" stroke="#adb9d3"/><path d="M1424.94 370.04A203.8 203.8 0 0 1 1424.26 364.28" stroke="#b2bed4"/><path d="M1423.73 358.24A203.8 203.8 0 0 1 1423.40 352.45" stroke="#b8c2d4"/><path d="M1423.22 346.40A203.8 203.8 0 0 1 1423.22 340.60" stroke="#bec7d5"/><path d="M1423.40 334.55A203.8 203.8 0 0 1 1423.73 328.76" stroke="#b8c2d4"/><path d="M1424.26 322.72A203.8 203.8 0 0 1 1424.94 316.96" stroke="#b2bed4"/><path d="M1425.81 310.97A203.8 203.8 0 0 1 1426.82 305.26" stroke="#adb9d3"/><path d="M1428.04 299.33A203.8 203.8 0 0 1 1429.38 293.68" stroke="#a7b4d2"/><path d="M1430.95 287.83A203.8 203.8 0 0 1 1432.61 282.28" stroke="#9faed1"/><path d="M1434.52 276.53A203.8 203.8 0 0 1 1436.50 271.08" stroke="#96a5d0"/><path d="M1438.74 265.45A203.8 203.8 0 0 1 1441.04 260.12" stroke="#8d9dcf"/><path d="M1443.59 254.64A203.8 203.8 0 0 1 1446.20 249.45" stroke="#8394cd"/><path d="M1449.07 244.12A203.8 203.8 0 0 1 1451.97 239.10" stroke="#7a8ccc"/><path d="M1455.15 233.94A203.8 203.8 0 0 1 1458.34 229.10" stroke="#7385cc"/><path d="M1461.81 224.14A203.8 203.8 0 0 1 1465.28 219.49" stroke="#6c7ecd"/><path d="M1469.03 214.73A203.8 203.8 0 0 1 1472.76 210.29" stroke="#6577cd"/><path d="M1476.79 205.77A203.8 203.8 0 0 1 1480.77 201.55" stroke="#5e70ce"/><path d="M1485.05 197.27A203.8 203.8 0 0 1 1489.27 193.29" stroke="#5768cc"/><path d="M1493.79 189.26A203.8 203.8 0 0 1 1498.23 185.53" stroke="#5160c9"/><path d="M1502.99 181.78A203.8 203.8 0 0 1 1507.64 178.31" stroke="#4c58c6"/><path d="M1512.60 174.84A203.8 203.8 0 0 1 1517.44 171.65" stroke="#4650c3"/><path d="M1522.60 168.47A203.8 203.8 0 0 1 1527.62 165.57" stroke="#4048c0"/><path d="M1532.95 162.70A203.8 203.8 0 0 1 1538.14 160.09" stroke="#393fb9"/><path d="M1543.62 157.54A203.8 203.8 0 0 1 1548.95 155.24" stroke="#3336b3"/><path d="M1554.58 153.00A203.8 203.8 0 0 1 1560.03 151.02" stroke="#2c2dac"/><path d="M1565.78 149.11A203.8 203.8 0 0 1 1571.33 147.45" stroke="#2524a5"/><path d="M1577.18 145.88A203.8 203.8 0 0 1 1582.83 144.54" stroke="#201ea1"/><path d="M1588.76 143.32A203.8 203.8 0 0 1 1594.47 142.31" stroke="#1d199e"/><path d="M1600.46 141.44A203.8 203.8 0 0 1 1606.22 140.76" stroke="#19149b"/><path d="M1612.26 140.23A203.8 203.8 0 0 1 1618.05 139.90" stroke="#160f99"/></g>
<circle cx="1587.6" cy="375" r="151.5" fill="#002cfe"/>
<circle cx="1578.0" cy="189.0" r="28.9" fill="#002cfe"/>
<circle cx="1643.8" cy="180.6" r="28.9" fill="#002cfe"/>
<circle cx="1690.8" cy="224.8" r="28.9" fill="#002cfe"/>
<circle cx="1757.0" cy="233.0" r="28.9" fill="#002cfe"/>
<circle cx="1757.0" cy="299.1" r="28.9" fill="#002cfe"/>
<circle cx="1787.2" cy="365.7" r="28.9" fill="#002cfe"/>
<line x1="482.9" y1="677.9" x2="559" y2="677.9" stroke="#3555e6" stroke-width="3.4"/><path d="M558 669.55L572.5 677.9L558 686.25Z" fill="#3555e6"/>
<line x1="930.2" y1="677.9" x2="1006.2" y2="677.9" stroke="#3555e6" stroke-width="3.4"/><path d="M1005.2 669.55L1019.4 677.9L1005.2 686.25Z" fill="#3555e6"/>
<line x1="1359.2" y1="677.9" x2="1435.2" y2="677.9" stroke="#3555e6" stroke-width="3.4"/><path d="M1434.2 669.55L1447.8 677.9L1434.2 686.25Z" fill="#3555e6"/>
<g font-family="&quot;Liberation Sans&quot;, sans-serif" font-size="36.8" fill="#000" stroke="#fff" stroke-width="0.55"><text transform="translate(279.00 690.0) scale(1.1 1)" x="0" y="0" text-anchor="middle" textLength="255.34" lengthAdjust="spacing">Deposit Assets</text><text transform="translate(729.00 669.1) scale(1.1 1)" x="0" y="0" text-anchor="middle" textLength="212.22" lengthAdjust="spacing">Receive Pool</text><text transform="translate(729.50 710.9) scale(1.1 1)" x="0" y="0" text-anchor="middle" textLength="118.93" lengthAdjust="spacing">Tokens</text><text transform="translate(1180.00 669.1) scale(1.1 1)" x="0" y="0" text-anchor="middle" textLength="193.39" lengthAdjust="spacing">Automated</text><text transform="translate(1178.70 710.9) scale(1.1 1)" x="0" y="0" text-anchor="middle" textLength="208.89" lengthAdjust="spacing">Rebalancing</text><text transform="translate(1629.70 669.1) scale(1.1 1)" x="0" y="0" text-anchor="middle" textLength="293.33" lengthAdjust="spacing">Yield Re-invested</text><text transform="translate(1629.00 710.9) scale(1.1 1)" x="0" y="0" text-anchor="middle" textLength="147.35" lengthAdjust="spacing">into Pool</text></g>
</svg>
</body></html>
